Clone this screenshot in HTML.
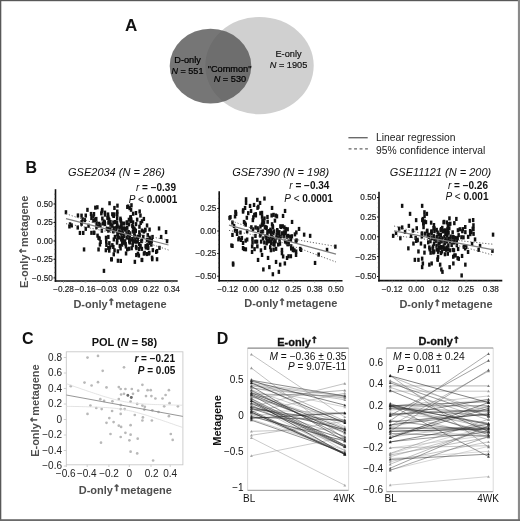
<!DOCTYPE html>
<html><head><meta charset="utf-8"><style>
html,body{margin:0;padding:0;background:#fff;}
svg{display:block;font-family:"Liberation Sans", Arial, sans-serif;filter:blur(0.3px);}
</style></head><body>
<svg width="520" height="521" viewBox="0 0 520 521">
<rect width="520" height="521" fill="#fff"/>
<text x="125.00" y="30.60" font-size="17" font-weight="bold" font-style="normal" text-anchor="start" fill="#111" >A</text>
<ellipse cx="259.5" cy="65.6" rx="54.2" ry="48.7" fill="#d0d0d0"/>
<ellipse cx="210.5" cy="66.1" rx="40.8" ry="37.4" fill="#585858" fill-opacity="0.82"/>
<text x="187.60" y="62.80" font-size="9.2" font-weight="normal" font-style="normal" text-anchor="middle" fill="#000" stroke="#000" stroke-width="0.22">D-only</text>
<text x="187.50" y="73.60" font-size="9.0" font-weight="normal" font-style="normal" text-anchor="middle" fill="#000" stroke="#000" stroke-width="0.22"><tspan font-style="italic">N</tspan> = 551</text>
<text x="229.60" y="72.20" font-size="9.2" font-weight="normal" font-style="normal" text-anchor="middle" fill="#000" stroke="#000" stroke-width="0.22">"Common"</text>
<text x="229.90" y="82.20" font-size="9.2" font-weight="normal" font-style="normal" text-anchor="middle" fill="#000" stroke="#000" stroke-width="0.22"><tspan font-style="italic">N</tspan> = 530</text>
<text x="288.50" y="57.30" font-size="9.2" font-weight="normal" font-style="normal" text-anchor="middle" fill="#111" stroke="#111" stroke-width="0.18">E-only</text>
<text x="288.50" y="68.30" font-size="9.2" font-weight="normal" font-style="normal" text-anchor="middle" fill="#111" stroke="#111" stroke-width="0.18"><tspan font-style="italic">N</tspan> = 1905</text>
<line x1="348.40" y1="137.70" x2="367.70" y2="137.70" stroke="#6a6a6a" stroke-width="1.4" />
<line x1="348.60" y1="148.90" x2="367.90" y2="148.90" stroke="#666" stroke-width="1.4" stroke-dasharray="2.9,2.6"/>
<text x="376.00" y="140.90" font-size="10.3" font-weight="normal" font-style="normal" text-anchor="start" fill="#222" >Linear regression</text>
<text x="376.00" y="153.60" font-size="10.3" font-weight="normal" font-style="normal" text-anchor="start" fill="#222" >95% confidence interval</text>
<text x="25.50" y="172.90" font-size="16" font-weight="bold" font-style="normal" text-anchor="start" fill="#111" >B</text>
<line x1="55.50" y1="189.20" x2="55.50" y2="281.80" stroke="#111" stroke-width="1.6" />
<line x1="54.70" y1="281.00" x2="177.70" y2="281.00" stroke="#111" stroke-width="1.6" />
<line x1="53.50" y1="204.00" x2="55.50" y2="204.00" stroke="#111" stroke-width="1" />
<text x="52.80" y="206.90" font-size="8.2" font-weight="normal" font-style="normal" text-anchor="end" fill="#222" stroke="#222" stroke-width="0.18">0.50</text>
<line x1="53.50" y1="222.50" x2="55.50" y2="222.50" stroke="#111" stroke-width="1" />
<text x="52.80" y="225.40" font-size="8.2" font-weight="normal" font-style="normal" text-anchor="end" fill="#222" stroke="#222" stroke-width="0.18">0.25</text>
<line x1="53.50" y1="241.00" x2="55.50" y2="241.00" stroke="#111" stroke-width="1" />
<text x="52.80" y="243.90" font-size="8.2" font-weight="normal" font-style="normal" text-anchor="end" fill="#222" stroke="#222" stroke-width="0.18">0.00</text>
<line x1="53.50" y1="259.30" x2="55.50" y2="259.30" stroke="#111" stroke-width="1" />
<text x="52.80" y="262.20" font-size="8.2" font-weight="normal" font-style="normal" text-anchor="end" fill="#222" stroke="#222" stroke-width="0.18">&#8722;0.25</text>
<line x1="53.50" y1="277.90" x2="55.50" y2="277.90" stroke="#111" stroke-width="1" />
<text x="52.80" y="280.80" font-size="8.2" font-weight="normal" font-style="normal" text-anchor="end" fill="#222" stroke="#222" stroke-width="0.18">&#8722;0.50</text>
<line x1="63.50" y1="281.00" x2="63.50" y2="283.00" stroke="#999" stroke-width="0.8" />
<text x="63.50" y="292.30" font-size="8.2" font-weight="normal" font-style="normal" text-anchor="middle" fill="#222" stroke="#222" stroke-width="0.18">&#8722;0.28</text>
<line x1="85.20" y1="281.00" x2="85.20" y2="283.00" stroke="#999" stroke-width="0.8" />
<text x="85.20" y="292.30" font-size="8.2" font-weight="normal" font-style="normal" text-anchor="middle" fill="#222" stroke="#222" stroke-width="0.18">&#8722;0.16</text>
<line x1="106.80" y1="281.00" x2="106.80" y2="283.00" stroke="#999" stroke-width="0.8" />
<text x="106.80" y="292.30" font-size="8.2" font-weight="normal" font-style="normal" text-anchor="middle" fill="#222" stroke="#222" stroke-width="0.18">&#8722;0.03</text>
<line x1="129.90" y1="281.00" x2="129.90" y2="283.00" stroke="#999" stroke-width="0.8" />
<text x="129.90" y="292.30" font-size="8.2" font-weight="normal" font-style="normal" text-anchor="middle" fill="#222" stroke="#222" stroke-width="0.18">0.09</text>
<line x1="151.00" y1="281.00" x2="151.00" y2="283.00" stroke="#999" stroke-width="0.8" />
<text x="151.00" y="292.30" font-size="8.2" font-weight="normal" font-style="normal" text-anchor="middle" fill="#222" stroke="#222" stroke-width="0.18">0.22</text>
<line x1="171.90" y1="281.00" x2="171.90" y2="283.00" stroke="#999" stroke-width="0.8" />
<text x="171.90" y="292.30" font-size="8.2" font-weight="normal" font-style="normal" text-anchor="middle" fill="#222" stroke="#222" stroke-width="0.18">0.34</text>
<line x1="54.30" y1="277.00" x2="55.50" y2="277.00" stroke="#444" stroke-width="0.6" />
<line x1="54.30" y1="272.40" x2="55.50" y2="272.40" stroke="#444" stroke-width="0.6" />
<line x1="54.30" y1="267.80" x2="55.50" y2="267.80" stroke="#444" stroke-width="0.6" />
<line x1="54.30" y1="263.20" x2="55.50" y2="263.20" stroke="#444" stroke-width="0.6" />
<line x1="54.30" y1="258.60" x2="55.50" y2="258.60" stroke="#444" stroke-width="0.6" />
<line x1="54.30" y1="254.00" x2="55.50" y2="254.00" stroke="#444" stroke-width="0.6" />
<line x1="54.30" y1="249.40" x2="55.50" y2="249.40" stroke="#444" stroke-width="0.6" />
<line x1="54.30" y1="244.80" x2="55.50" y2="244.80" stroke="#444" stroke-width="0.6" />
<line x1="54.30" y1="240.20" x2="55.50" y2="240.20" stroke="#444" stroke-width="0.6" />
<line x1="54.30" y1="235.60" x2="55.50" y2="235.60" stroke="#444" stroke-width="0.6" />
<line x1="54.30" y1="231.00" x2="55.50" y2="231.00" stroke="#444" stroke-width="0.6" />
<line x1="54.30" y1="226.40" x2="55.50" y2="226.40" stroke="#444" stroke-width="0.6" />
<line x1="54.30" y1="221.80" x2="55.50" y2="221.80" stroke="#444" stroke-width="0.6" />
<line x1="54.30" y1="217.20" x2="55.50" y2="217.20" stroke="#444" stroke-width="0.6" />
<line x1="54.30" y1="212.60" x2="55.50" y2="212.60" stroke="#444" stroke-width="0.6" />
<line x1="54.30" y1="208.00" x2="55.50" y2="208.00" stroke="#444" stroke-width="0.6" />
<line x1="54.30" y1="203.40" x2="55.50" y2="203.40" stroke="#444" stroke-width="0.6" />
<line x1="54.30" y1="198.80" x2="55.50" y2="198.80" stroke="#444" stroke-width="0.6" />
<line x1="54.30" y1="194.20" x2="55.50" y2="194.20" stroke="#444" stroke-width="0.6" />
<line x1="60.50" y1="281.00" x2="60.50" y2="282.30" stroke="#888" stroke-width="0.6" />
<line x1="65.70" y1="281.00" x2="65.70" y2="282.30" stroke="#888" stroke-width="0.6" />
<line x1="70.90" y1="281.00" x2="70.90" y2="282.30" stroke="#888" stroke-width="0.6" />
<line x1="76.10" y1="281.00" x2="76.10" y2="282.30" stroke="#888" stroke-width="0.6" />
<line x1="81.30" y1="281.00" x2="81.30" y2="282.30" stroke="#888" stroke-width="0.6" />
<line x1="86.50" y1="281.00" x2="86.50" y2="282.30" stroke="#888" stroke-width="0.6" />
<line x1="91.70" y1="281.00" x2="91.70" y2="282.30" stroke="#888" stroke-width="0.6" />
<line x1="96.90" y1="281.00" x2="96.90" y2="282.30" stroke="#888" stroke-width="0.6" />
<line x1="102.10" y1="281.00" x2="102.10" y2="282.30" stroke="#888" stroke-width="0.6" />
<line x1="107.30" y1="281.00" x2="107.30" y2="282.30" stroke="#888" stroke-width="0.6" />
<line x1="112.50" y1="281.00" x2="112.50" y2="282.30" stroke="#888" stroke-width="0.6" />
<line x1="117.70" y1="281.00" x2="117.70" y2="282.30" stroke="#888" stroke-width="0.6" />
<line x1="122.90" y1="281.00" x2="122.90" y2="282.30" stroke="#888" stroke-width="0.6" />
<line x1="128.10" y1="281.00" x2="128.10" y2="282.30" stroke="#888" stroke-width="0.6" />
<line x1="133.30" y1="281.00" x2="133.30" y2="282.30" stroke="#888" stroke-width="0.6" />
<line x1="138.50" y1="281.00" x2="138.50" y2="282.30" stroke="#888" stroke-width="0.6" />
<line x1="143.70" y1="281.00" x2="143.70" y2="282.30" stroke="#888" stroke-width="0.6" />
<line x1="148.90" y1="281.00" x2="148.90" y2="282.30" stroke="#888" stroke-width="0.6" />
<line x1="154.10" y1="281.00" x2="154.10" y2="282.30" stroke="#888" stroke-width="0.6" />
<line x1="159.30" y1="281.00" x2="159.30" y2="282.30" stroke="#888" stroke-width="0.6" />
<line x1="164.50" y1="281.00" x2="164.50" y2="282.30" stroke="#888" stroke-width="0.6" />
<line x1="169.70" y1="281.00" x2="169.70" y2="282.30" stroke="#888" stroke-width="0.6" />
<line x1="174.90" y1="281.00" x2="174.90" y2="282.30" stroke="#888" stroke-width="0.6" />
<text x="116.50" y="175.90" font-size="11" font-weight="normal" font-style="italic" text-anchor="middle" fill="#111" >GSE2034 (N = 286)</text>
<text x="176.00" y="190.60" font-size="10" font-weight="bold" font-style="normal" text-anchor="end" fill="#111" ><tspan font-style="italic" font-weight="normal">r</tspan> = &#8722;0.39</text>
<text x="177.30" y="203.30" font-size="10" font-weight="bold" font-style="normal" text-anchor="end" fill="#111" ><tspan font-style="italic" font-weight="normal">P</tspan> <tspan font-weight="normal">&lt;</tspan> 0.0001</text>
<text x="120.00" y="307.70" font-size="11" font-weight="bold" font-style="normal" text-anchor="middle" fill="#4d4d4d" >D-only<tspan font-family="DejaVu Sans" font-weight="bold" font-size="9" dy="-2.4" stroke="#4d4d4d" stroke-width="0.45">&#8593;</tspan><tspan dy="2.4">metagene</tspan></text>
<line x1="219.20" y1="191.20" x2="219.20" y2="281.60" stroke="#111" stroke-width="1.6" />
<line x1="218.40" y1="280.80" x2="342.50" y2="280.80" stroke="#111" stroke-width="1.6" />
<line x1="217.20" y1="208.50" x2="219.20" y2="208.50" stroke="#111" stroke-width="1" />
<text x="216.30" y="211.40" font-size="8.2" font-weight="normal" font-style="normal" text-anchor="end" fill="#222" stroke="#222" stroke-width="0.18">0.25</text>
<line x1="217.20" y1="231.00" x2="219.20" y2="231.00" stroke="#111" stroke-width="1" />
<text x="216.30" y="233.90" font-size="8.2" font-weight="normal" font-style="normal" text-anchor="end" fill="#222" stroke="#222" stroke-width="0.18">0.00</text>
<line x1="217.20" y1="253.50" x2="219.20" y2="253.50" stroke="#111" stroke-width="1" />
<text x="216.30" y="256.40" font-size="8.2" font-weight="normal" font-style="normal" text-anchor="end" fill="#222" stroke="#222" stroke-width="0.18">&#8722;0.25</text>
<line x1="217.20" y1="276.20" x2="219.20" y2="276.20" stroke="#111" stroke-width="1" />
<text x="216.30" y="279.10" font-size="8.2" font-weight="normal" font-style="normal" text-anchor="end" fill="#222" stroke="#222" stroke-width="0.18">&#8722;0.50</text>
<line x1="227.70" y1="280.80" x2="227.70" y2="282.80" stroke="#999" stroke-width="0.8" />
<text x="227.70" y="292.10" font-size="8.2" font-weight="normal" font-style="normal" text-anchor="middle" fill="#222" stroke="#222" stroke-width="0.18">&#8722;0.12</text>
<line x1="250.60" y1="280.80" x2="250.60" y2="282.80" stroke="#999" stroke-width="0.8" />
<text x="250.60" y="292.10" font-size="8.2" font-weight="normal" font-style="normal" text-anchor="middle" fill="#222" stroke="#222" stroke-width="0.18">0.00</text>
<line x1="271.20" y1="280.80" x2="271.20" y2="282.80" stroke="#999" stroke-width="0.8" />
<text x="271.20" y="292.10" font-size="8.2" font-weight="normal" font-style="normal" text-anchor="middle" fill="#222" stroke="#222" stroke-width="0.18">0.12</text>
<line x1="293.30" y1="280.80" x2="293.30" y2="282.80" stroke="#999" stroke-width="0.8" />
<text x="293.30" y="292.10" font-size="8.2" font-weight="normal" font-style="normal" text-anchor="middle" fill="#222" stroke="#222" stroke-width="0.18">0.25</text>
<line x1="314.70" y1="280.80" x2="314.70" y2="282.80" stroke="#999" stroke-width="0.8" />
<text x="314.70" y="292.10" font-size="8.2" font-weight="normal" font-style="normal" text-anchor="middle" fill="#222" stroke="#222" stroke-width="0.18">0.38</text>
<line x1="335.90" y1="280.80" x2="335.90" y2="282.80" stroke="#999" stroke-width="0.8" />
<text x="335.90" y="292.10" font-size="8.2" font-weight="normal" font-style="normal" text-anchor="middle" fill="#222" stroke="#222" stroke-width="0.18">0.50</text>
<line x1="218.00" y1="276.80" x2="219.20" y2="276.80" stroke="#444" stroke-width="0.6" />
<line x1="218.00" y1="272.20" x2="219.20" y2="272.20" stroke="#444" stroke-width="0.6" />
<line x1="218.00" y1="267.60" x2="219.20" y2="267.60" stroke="#444" stroke-width="0.6" />
<line x1="218.00" y1="263.00" x2="219.20" y2="263.00" stroke="#444" stroke-width="0.6" />
<line x1="218.00" y1="258.40" x2="219.20" y2="258.40" stroke="#444" stroke-width="0.6" />
<line x1="218.00" y1="253.80" x2="219.20" y2="253.80" stroke="#444" stroke-width="0.6" />
<line x1="218.00" y1="249.20" x2="219.20" y2="249.20" stroke="#444" stroke-width="0.6" />
<line x1="218.00" y1="244.60" x2="219.20" y2="244.60" stroke="#444" stroke-width="0.6" />
<line x1="218.00" y1="240.00" x2="219.20" y2="240.00" stroke="#444" stroke-width="0.6" />
<line x1="218.00" y1="235.40" x2="219.20" y2="235.40" stroke="#444" stroke-width="0.6" />
<line x1="218.00" y1="230.80" x2="219.20" y2="230.80" stroke="#444" stroke-width="0.6" />
<line x1="218.00" y1="226.20" x2="219.20" y2="226.20" stroke="#444" stroke-width="0.6" />
<line x1="218.00" y1="221.60" x2="219.20" y2="221.60" stroke="#444" stroke-width="0.6" />
<line x1="218.00" y1="217.00" x2="219.20" y2="217.00" stroke="#444" stroke-width="0.6" />
<line x1="218.00" y1="212.40" x2="219.20" y2="212.40" stroke="#444" stroke-width="0.6" />
<line x1="218.00" y1="207.80" x2="219.20" y2="207.80" stroke="#444" stroke-width="0.6" />
<line x1="218.00" y1="203.20" x2="219.20" y2="203.20" stroke="#444" stroke-width="0.6" />
<line x1="218.00" y1="198.60" x2="219.20" y2="198.60" stroke="#444" stroke-width="0.6" />
<line x1="218.00" y1="194.00" x2="219.20" y2="194.00" stroke="#444" stroke-width="0.6" />
<line x1="224.20" y1="280.80" x2="224.20" y2="282.10" stroke="#888" stroke-width="0.6" />
<line x1="229.40" y1="280.80" x2="229.40" y2="282.10" stroke="#888" stroke-width="0.6" />
<line x1="234.60" y1="280.80" x2="234.60" y2="282.10" stroke="#888" stroke-width="0.6" />
<line x1="239.80" y1="280.80" x2="239.80" y2="282.10" stroke="#888" stroke-width="0.6" />
<line x1="245.00" y1="280.80" x2="245.00" y2="282.10" stroke="#888" stroke-width="0.6" />
<line x1="250.20" y1="280.80" x2="250.20" y2="282.10" stroke="#888" stroke-width="0.6" />
<line x1="255.40" y1="280.80" x2="255.40" y2="282.10" stroke="#888" stroke-width="0.6" />
<line x1="260.60" y1="280.80" x2="260.60" y2="282.10" stroke="#888" stroke-width="0.6" />
<line x1="265.80" y1="280.80" x2="265.80" y2="282.10" stroke="#888" stroke-width="0.6" />
<line x1="271.00" y1="280.80" x2="271.00" y2="282.10" stroke="#888" stroke-width="0.6" />
<line x1="276.20" y1="280.80" x2="276.20" y2="282.10" stroke="#888" stroke-width="0.6" />
<line x1="281.40" y1="280.80" x2="281.40" y2="282.10" stroke="#888" stroke-width="0.6" />
<line x1="286.60" y1="280.80" x2="286.60" y2="282.10" stroke="#888" stroke-width="0.6" />
<line x1="291.80" y1="280.80" x2="291.80" y2="282.10" stroke="#888" stroke-width="0.6" />
<line x1="297.00" y1="280.80" x2="297.00" y2="282.10" stroke="#888" stroke-width="0.6" />
<line x1="302.20" y1="280.80" x2="302.20" y2="282.10" stroke="#888" stroke-width="0.6" />
<line x1="307.40" y1="280.80" x2="307.40" y2="282.10" stroke="#888" stroke-width="0.6" />
<line x1="312.60" y1="280.80" x2="312.60" y2="282.10" stroke="#888" stroke-width="0.6" />
<line x1="317.80" y1="280.80" x2="317.80" y2="282.10" stroke="#888" stroke-width="0.6" />
<line x1="323.00" y1="280.80" x2="323.00" y2="282.10" stroke="#888" stroke-width="0.6" />
<line x1="328.20" y1="280.80" x2="328.20" y2="282.10" stroke="#888" stroke-width="0.6" />
<line x1="333.40" y1="280.80" x2="333.40" y2="282.10" stroke="#888" stroke-width="0.6" />
<line x1="338.60" y1="280.80" x2="338.60" y2="282.10" stroke="#888" stroke-width="0.6" />
<text x="280.60" y="175.50" font-size="11" font-weight="normal" font-style="italic" text-anchor="middle" fill="#111" >GSE7390 (N = 198)</text>
<text x="329.40" y="188.70" font-size="10" font-weight="bold" font-style="normal" text-anchor="end" fill="#111" ><tspan font-style="italic" font-weight="normal">r</tspan> = &#8722;0.34</text>
<text x="332.90" y="201.60" font-size="10" font-weight="bold" font-style="normal" text-anchor="end" fill="#111" ><tspan font-style="italic" font-weight="normal">P</tspan> <tspan font-weight="normal">&lt;</tspan> 0.0001</text>
<text x="290.80" y="307.20" font-size="11" font-weight="bold" font-style="normal" text-anchor="middle" fill="#4d4d4d" >D-only<tspan font-family="DejaVu Sans" font-weight="bold" font-size="9" dy="-2.4" stroke="#4d4d4d" stroke-width="0.45">&#8593;</tspan><tspan dy="2.4">metagene</tspan></text>
<line x1="379.00" y1="191.70" x2="379.00" y2="281.40" stroke="#111" stroke-width="1.6" />
<line x1="378.20" y1="280.60" x2="502.30" y2="280.60" stroke="#111" stroke-width="1.6" />
<line x1="377.00" y1="197.50" x2="379.00" y2="197.50" stroke="#111" stroke-width="1" />
<text x="376.30" y="200.40" font-size="8.2" font-weight="normal" font-style="normal" text-anchor="end" fill="#222" stroke="#222" stroke-width="0.18">0.50</text>
<line x1="377.00" y1="217.00" x2="379.00" y2="217.00" stroke="#111" stroke-width="1" />
<text x="376.30" y="219.90" font-size="8.2" font-weight="normal" font-style="normal" text-anchor="end" fill="#222" stroke="#222" stroke-width="0.18">0.25</text>
<line x1="377.00" y1="236.80" x2="379.00" y2="236.80" stroke="#111" stroke-width="1" />
<text x="376.30" y="239.70" font-size="8.2" font-weight="normal" font-style="normal" text-anchor="end" fill="#222" stroke="#222" stroke-width="0.18">0.00</text>
<line x1="377.00" y1="256.60" x2="379.00" y2="256.60" stroke="#111" stroke-width="1" />
<text x="376.30" y="259.50" font-size="8.2" font-weight="normal" font-style="normal" text-anchor="end" fill="#222" stroke="#222" stroke-width="0.18">&#8722;0.25</text>
<line x1="377.00" y1="276.50" x2="379.00" y2="276.50" stroke="#111" stroke-width="1" />
<text x="376.30" y="279.40" font-size="8.2" font-weight="normal" font-style="normal" text-anchor="end" fill="#222" stroke="#222" stroke-width="0.18">&#8722;0.50</text>
<line x1="392.20" y1="280.60" x2="392.20" y2="282.60" stroke="#999" stroke-width="0.8" />
<text x="392.20" y="291.90" font-size="8.2" font-weight="normal" font-style="normal" text-anchor="middle" fill="#222" stroke="#222" stroke-width="0.18">&#8722;0.12</text>
<line x1="416.30" y1="280.60" x2="416.30" y2="282.60" stroke="#999" stroke-width="0.8" />
<text x="416.30" y="291.90" font-size="8.2" font-weight="normal" font-style="normal" text-anchor="middle" fill="#222" stroke="#222" stroke-width="0.18">0.00</text>
<line x1="441.30" y1="280.60" x2="441.30" y2="282.60" stroke="#999" stroke-width="0.8" />
<text x="441.30" y="291.90" font-size="8.2" font-weight="normal" font-style="normal" text-anchor="middle" fill="#222" stroke="#222" stroke-width="0.18">0.12</text>
<line x1="466.00" y1="280.60" x2="466.00" y2="282.60" stroke="#999" stroke-width="0.8" />
<text x="466.00" y="291.90" font-size="8.2" font-weight="normal" font-style="normal" text-anchor="middle" fill="#222" stroke="#222" stroke-width="0.18">0.25</text>
<line x1="490.80" y1="280.60" x2="490.80" y2="282.60" stroke="#999" stroke-width="0.8" />
<text x="490.80" y="291.90" font-size="8.2" font-weight="normal" font-style="normal" text-anchor="middle" fill="#222" stroke="#222" stroke-width="0.18">0.38</text>
<line x1="377.80" y1="276.60" x2="379.00" y2="276.60" stroke="#444" stroke-width="0.6" />
<line x1="377.80" y1="272.00" x2="379.00" y2="272.00" stroke="#444" stroke-width="0.6" />
<line x1="377.80" y1="267.40" x2="379.00" y2="267.40" stroke="#444" stroke-width="0.6" />
<line x1="377.80" y1="262.80" x2="379.00" y2="262.80" stroke="#444" stroke-width="0.6" />
<line x1="377.80" y1="258.20" x2="379.00" y2="258.20" stroke="#444" stroke-width="0.6" />
<line x1="377.80" y1="253.60" x2="379.00" y2="253.60" stroke="#444" stroke-width="0.6" />
<line x1="377.80" y1="249.00" x2="379.00" y2="249.00" stroke="#444" stroke-width="0.6" />
<line x1="377.80" y1="244.40" x2="379.00" y2="244.40" stroke="#444" stroke-width="0.6" />
<line x1="377.80" y1="239.80" x2="379.00" y2="239.80" stroke="#444" stroke-width="0.6" />
<line x1="377.80" y1="235.20" x2="379.00" y2="235.20" stroke="#444" stroke-width="0.6" />
<line x1="377.80" y1="230.60" x2="379.00" y2="230.60" stroke="#444" stroke-width="0.6" />
<line x1="377.80" y1="226.00" x2="379.00" y2="226.00" stroke="#444" stroke-width="0.6" />
<line x1="377.80" y1="221.40" x2="379.00" y2="221.40" stroke="#444" stroke-width="0.6" />
<line x1="377.80" y1="216.80" x2="379.00" y2="216.80" stroke="#444" stroke-width="0.6" />
<line x1="377.80" y1="212.20" x2="379.00" y2="212.20" stroke="#444" stroke-width="0.6" />
<line x1="377.80" y1="207.60" x2="379.00" y2="207.60" stroke="#444" stroke-width="0.6" />
<line x1="377.80" y1="203.00" x2="379.00" y2="203.00" stroke="#444" stroke-width="0.6" />
<line x1="377.80" y1="198.40" x2="379.00" y2="198.40" stroke="#444" stroke-width="0.6" />
<line x1="377.80" y1="193.80" x2="379.00" y2="193.80" stroke="#444" stroke-width="0.6" />
<line x1="384.00" y1="280.60" x2="384.00" y2="281.90" stroke="#888" stroke-width="0.6" />
<line x1="389.20" y1="280.60" x2="389.20" y2="281.90" stroke="#888" stroke-width="0.6" />
<line x1="394.40" y1="280.60" x2="394.40" y2="281.90" stroke="#888" stroke-width="0.6" />
<line x1="399.60" y1="280.60" x2="399.60" y2="281.90" stroke="#888" stroke-width="0.6" />
<line x1="404.80" y1="280.60" x2="404.80" y2="281.90" stroke="#888" stroke-width="0.6" />
<line x1="410.00" y1="280.60" x2="410.00" y2="281.90" stroke="#888" stroke-width="0.6" />
<line x1="415.20" y1="280.60" x2="415.20" y2="281.90" stroke="#888" stroke-width="0.6" />
<line x1="420.40" y1="280.60" x2="420.40" y2="281.90" stroke="#888" stroke-width="0.6" />
<line x1="425.60" y1="280.60" x2="425.60" y2="281.90" stroke="#888" stroke-width="0.6" />
<line x1="430.80" y1="280.60" x2="430.80" y2="281.90" stroke="#888" stroke-width="0.6" />
<line x1="436.00" y1="280.60" x2="436.00" y2="281.90" stroke="#888" stroke-width="0.6" />
<line x1="441.20" y1="280.60" x2="441.20" y2="281.90" stroke="#888" stroke-width="0.6" />
<line x1="446.40" y1="280.60" x2="446.40" y2="281.90" stroke="#888" stroke-width="0.6" />
<line x1="451.60" y1="280.60" x2="451.60" y2="281.90" stroke="#888" stroke-width="0.6" />
<line x1="456.80" y1="280.60" x2="456.80" y2="281.90" stroke="#888" stroke-width="0.6" />
<line x1="462.00" y1="280.60" x2="462.00" y2="281.90" stroke="#888" stroke-width="0.6" />
<line x1="467.20" y1="280.60" x2="467.20" y2="281.90" stroke="#888" stroke-width="0.6" />
<line x1="472.40" y1="280.60" x2="472.40" y2="281.90" stroke="#888" stroke-width="0.6" />
<line x1="477.60" y1="280.60" x2="477.60" y2="281.90" stroke="#888" stroke-width="0.6" />
<line x1="482.80" y1="280.60" x2="482.80" y2="281.90" stroke="#888" stroke-width="0.6" />
<line x1="488.00" y1="280.60" x2="488.00" y2="281.90" stroke="#888" stroke-width="0.6" />
<line x1="493.20" y1="280.60" x2="493.20" y2="281.90" stroke="#888" stroke-width="0.6" />
<line x1="498.40" y1="280.60" x2="498.40" y2="281.90" stroke="#888" stroke-width="0.6" />
<text x="440.50" y="176.20" font-size="11" font-weight="normal" font-style="italic" text-anchor="middle" fill="#111" >GSE11121 (N = 200)</text>
<text x="488.00" y="188.80" font-size="10" font-weight="bold" font-style="normal" text-anchor="end" fill="#111" ><tspan font-style="italic" font-weight="normal">r</tspan> = &#8722;0.26</text>
<text x="488.50" y="200.40" font-size="10" font-weight="bold" font-style="normal" text-anchor="end" fill="#111" ><tspan font-style="italic" font-weight="normal">P</tspan> <tspan font-weight="normal">&lt;</tspan> 0.001</text>
<text x="446.00" y="308.00" font-size="11" font-weight="bold" font-style="normal" text-anchor="middle" fill="#4d4d4d" >D-only<tspan font-family="DejaVu Sans" font-weight="bold" font-size="9" dy="-2.4" stroke="#4d4d4d" stroke-width="0.45">&#8593;</tspan><tspan dy="2.4">metagene</tspan></text>
<rect x="100.6" y="228.7" width="2.5" height="4.1" fill="#111"/>
<rect x="131.7" y="225.0" width="2.5" height="4.1" fill="#111"/>
<rect x="99.1" y="223.2" width="2.5" height="4.1" fill="#111"/>
<rect x="124.4" y="242.1" width="2.5" height="4.1" fill="#111"/>
<rect x="100.7" y="209.3" width="2.5" height="4.1" fill="#111"/>
<rect x="127.6" y="235.6" width="2.5" height="4.1" fill="#111"/>
<rect x="139.2" y="244.0" width="2.5" height="4.1" fill="#111"/>
<rect x="116.3" y="224.5" width="2.5" height="4.1" fill="#111"/>
<rect x="106.8" y="212.4" width="2.5" height="4.1" fill="#111"/>
<rect x="119.1" y="229.9" width="2.5" height="4.1" fill="#111"/>
<rect x="112.9" y="226.2" width="2.5" height="4.1" fill="#111"/>
<rect x="121.6" y="236.8" width="2.5" height="4.1" fill="#111"/>
<rect x="133.1" y="233.7" width="2.5" height="4.1" fill="#111"/>
<rect x="92.7" y="230.7" width="2.5" height="4.1" fill="#111"/>
<rect x="97.9" y="221.7" width="2.5" height="4.1" fill="#111"/>
<rect x="97.1" y="223.6" width="2.5" height="4.1" fill="#111"/>
<rect x="106.9" y="228.1" width="2.5" height="4.1" fill="#111"/>
<rect x="129.5" y="215.1" width="2.5" height="4.1" fill="#111"/>
<rect x="113.7" y="234.8" width="2.5" height="4.1" fill="#111"/>
<rect x="116.5" y="232.0" width="2.5" height="4.1" fill="#111"/>
<rect x="119.2" y="216.6" width="2.5" height="4.1" fill="#111"/>
<rect x="125.6" y="220.2" width="2.5" height="4.1" fill="#111"/>
<rect x="144.0" y="227.7" width="2.5" height="4.1" fill="#111"/>
<rect x="127.4" y="230.0" width="2.5" height="4.1" fill="#111"/>
<rect x="131.1" y="223.8" width="2.5" height="4.1" fill="#111"/>
<rect x="131.7" y="229.5" width="2.5" height="4.1" fill="#111"/>
<rect x="135.4" y="239.0" width="2.5" height="4.1" fill="#111"/>
<rect x="119.7" y="219.3" width="2.5" height="4.1" fill="#111"/>
<rect x="128.5" y="235.7" width="2.5" height="4.1" fill="#111"/>
<rect x="140.7" y="228.5" width="2.5" height="4.1" fill="#111"/>
<rect x="125.5" y="235.5" width="2.5" height="4.1" fill="#111"/>
<rect x="121.7" y="231.2" width="2.5" height="4.1" fill="#111"/>
<rect x="120.3" y="221.5" width="2.5" height="4.1" fill="#111"/>
<rect x="103.5" y="220.3" width="2.5" height="4.1" fill="#111"/>
<rect x="126.0" y="247.3" width="2.5" height="4.1" fill="#111"/>
<rect x="131.4" y="243.1" width="2.5" height="4.1" fill="#111"/>
<rect x="128.6" y="238.4" width="2.5" height="4.1" fill="#111"/>
<rect x="120.3" y="237.5" width="2.5" height="4.1" fill="#111"/>
<rect x="142.6" y="229.5" width="2.5" height="4.1" fill="#111"/>
<rect x="108.0" y="248.6" width="2.5" height="4.1" fill="#111"/>
<rect x="121.2" y="240.0" width="2.5" height="4.1" fill="#111"/>
<rect x="130.0" y="217.4" width="2.5" height="4.1" fill="#111"/>
<rect x="120.2" y="237.2" width="2.5" height="4.1" fill="#111"/>
<rect x="119.5" y="218.1" width="2.5" height="4.1" fill="#111"/>
<rect x="116.2" y="232.0" width="2.5" height="4.1" fill="#111"/>
<rect x="133.4" y="239.5" width="2.5" height="4.1" fill="#111"/>
<rect x="118.6" y="243.9" width="2.5" height="4.1" fill="#111"/>
<rect x="107.1" y="234.9" width="2.5" height="4.1" fill="#111"/>
<rect x="133.3" y="227.9" width="2.5" height="4.1" fill="#111"/>
<rect x="92.7" y="212.0" width="2.5" height="4.1" fill="#111"/>
<rect x="121.1" y="234.8" width="2.5" height="4.1" fill="#111"/>
<rect x="139.4" y="220.9" width="2.5" height="4.1" fill="#111"/>
<rect x="117.8" y="235.5" width="2.5" height="4.1" fill="#111"/>
<rect x="131.8" y="220.3" width="2.5" height="4.1" fill="#111"/>
<rect x="112.0" y="229.3" width="2.5" height="4.1" fill="#111"/>
<rect x="119.3" y="246.4" width="2.5" height="4.1" fill="#111"/>
<rect x="116.6" y="249.3" width="2.5" height="4.1" fill="#111"/>
<rect x="108.2" y="220.4" width="2.5" height="4.1" fill="#111"/>
<rect x="127.8" y="246.7" width="2.5" height="4.1" fill="#111"/>
<rect x="126.9" y="233.4" width="2.5" height="4.1" fill="#111"/>
<rect x="92.2" y="214.2" width="2.5" height="4.1" fill="#111"/>
<rect x="109.2" y="219.9" width="2.5" height="4.1" fill="#111"/>
<rect x="126.0" y="225.8" width="2.5" height="4.1" fill="#111"/>
<rect x="128.8" y="231.3" width="2.5" height="4.1" fill="#111"/>
<rect x="113.1" y="228.3" width="2.5" height="4.1" fill="#111"/>
<rect x="123.8" y="239.2" width="2.5" height="4.1" fill="#111"/>
<rect x="111.1" y="223.8" width="2.5" height="4.1" fill="#111"/>
<rect x="98.7" y="242.5" width="2.5" height="4.1" fill="#111"/>
<rect x="138.1" y="230.2" width="2.5" height="4.1" fill="#111"/>
<rect x="111.1" y="212.2" width="2.5" height="4.1" fill="#111"/>
<rect x="120.1" y="230.9" width="2.5" height="4.1" fill="#111"/>
<rect x="148.3" y="237.4" width="2.5" height="4.1" fill="#111"/>
<rect x="137.5" y="234.4" width="2.5" height="4.1" fill="#111"/>
<rect x="95.2" y="225.2" width="2.5" height="4.1" fill="#111"/>
<rect x="133.4" y="238.0" width="2.5" height="4.1" fill="#111"/>
<rect x="116.0" y="209.5" width="2.5" height="4.1" fill="#111"/>
<rect x="126.1" y="204.9" width="2.5" height="4.1" fill="#111"/>
<rect x="105.0" y="239.4" width="2.5" height="4.1" fill="#111"/>
<rect x="140.8" y="219.2" width="2.5" height="4.1" fill="#111"/>
<rect x="96.3" y="233.6" width="2.5" height="4.1" fill="#111"/>
<rect x="129.7" y="219.0" width="2.5" height="4.1" fill="#111"/>
<rect x="108.0" y="217.8" width="2.5" height="4.1" fill="#111"/>
<rect x="101.1" y="216.5" width="2.5" height="4.1" fill="#111"/>
<rect x="135.3" y="239.7" width="2.5" height="4.1" fill="#111"/>
<rect x="146.5" y="233.1" width="2.5" height="4.1" fill="#111"/>
<rect x="115.9" y="216.1" width="2.5" height="4.1" fill="#111"/>
<rect x="116.0" y="212.3" width="2.5" height="4.1" fill="#111"/>
<rect x="92.9" y="230.7" width="2.5" height="4.1" fill="#111"/>
<rect x="137.9" y="242.0" width="2.5" height="4.1" fill="#111"/>
<rect x="136.4" y="234.9" width="2.5" height="4.1" fill="#111"/>
<rect x="107.7" y="226.8" width="2.5" height="4.1" fill="#111"/>
<rect x="112.5" y="213.9" width="2.5" height="4.1" fill="#111"/>
<rect x="94.1" y="205.6" width="2.5" height="4.1" fill="#111"/>
<rect x="117.7" y="229.7" width="2.5" height="4.1" fill="#111"/>
<rect x="111.1" y="243.1" width="2.5" height="4.1" fill="#111"/>
<rect x="120.3" y="235.3" width="2.5" height="4.1" fill="#111"/>
<rect x="134.8" y="222.1" width="2.5" height="4.1" fill="#111"/>
<rect x="90.2" y="230.8" width="2.5" height="4.1" fill="#111"/>
<rect x="108.1" y="241.1" width="2.5" height="4.1" fill="#111"/>
<rect x="122.5" y="240.7" width="2.5" height="4.1" fill="#111"/>
<rect x="128.4" y="206.1" width="2.5" height="4.1" fill="#111"/>
<rect x="127.8" y="222.3" width="2.5" height="4.1" fill="#111"/>
<rect x="107.2" y="220.6" width="2.5" height="4.1" fill="#111"/>
<rect x="128.5" y="240.5" width="2.5" height="4.1" fill="#111"/>
<rect x="131.9" y="211.7" width="2.5" height="4.1" fill="#111"/>
<rect x="116.3" y="234.6" width="2.5" height="4.1" fill="#111"/>
<rect x="107.1" y="228.5" width="2.5" height="4.1" fill="#111"/>
<rect x="121.0" y="240.4" width="2.5" height="4.1" fill="#111"/>
<rect x="106.3" y="215.9" width="2.5" height="4.1" fill="#111"/>
<rect x="107.1" y="246.0" width="2.5" height="4.1" fill="#111"/>
<rect x="133.0" y="229.8" width="2.5" height="4.1" fill="#111"/>
<rect x="120.9" y="230.0" width="2.5" height="4.1" fill="#111"/>
<rect x="120.6" y="226.1" width="2.5" height="4.1" fill="#111"/>
<rect x="113.1" y="212.3" width="2.5" height="4.1" fill="#111"/>
<rect x="108.8" y="245.2" width="2.5" height="4.1" fill="#111"/>
<rect x="125.3" y="230.3" width="2.5" height="4.1" fill="#111"/>
<rect x="114.7" y="228.0" width="2.5" height="4.1" fill="#111"/>
<rect x="122.7" y="221.5" width="2.5" height="4.1" fill="#111"/>
<rect x="120.5" y="231.3" width="2.5" height="4.1" fill="#111"/>
<rect x="107.3" y="216.5" width="2.5" height="4.1" fill="#111"/>
<rect x="103.8" y="212.6" width="2.5" height="4.1" fill="#111"/>
<rect x="130.2" y="203.2" width="2.5" height="4.1" fill="#111"/>
<rect x="114.0" y="220.0" width="2.5" height="4.1" fill="#111"/>
<rect x="109.1" y="227.2" width="2.5" height="4.1" fill="#111"/>
<rect x="133.5" y="232.2" width="2.5" height="4.1" fill="#111"/>
<rect x="115.8" y="220.4" width="2.5" height="4.1" fill="#111"/>
<rect x="115.9" y="238.2" width="2.5" height="4.1" fill="#111"/>
<rect x="112.2" y="213.4" width="2.5" height="4.1" fill="#111"/>
<rect x="100.1" y="211.3" width="2.5" height="4.1" fill="#111"/>
<rect x="98.3" y="236.5" width="2.5" height="4.1" fill="#111"/>
<rect x="122.7" y="226.3" width="2.5" height="4.1" fill="#111"/>
<rect x="138.2" y="224.7" width="2.5" height="4.1" fill="#111"/>
<rect x="128.3" y="239.5" width="2.5" height="4.1" fill="#111"/>
<rect x="96.1" y="205.2" width="2.5" height="4.1" fill="#111"/>
<rect x="104.8" y="235.7" width="2.5" height="4.1" fill="#111"/>
<rect x="135.9" y="217.6" width="2.5" height="4.1" fill="#111"/>
<rect x="132.4" y="226.6" width="2.5" height="4.1" fill="#111"/>
<rect x="112.2" y="220.4" width="2.5" height="4.1" fill="#111"/>
<rect x="113.2" y="205.9" width="2.5" height="4.1" fill="#111"/>
<rect x="103.7" y="210.6" width="2.5" height="4.1" fill="#111"/>
<rect x="93.7" y="218.1" width="2.5" height="4.1" fill="#111"/>
<rect x="104.6" y="248.2" width="2.5" height="4.1" fill="#111"/>
<rect x="125.7" y="221.2" width="2.5" height="4.1" fill="#111"/>
<rect x="130.9" y="237.0" width="2.5" height="4.1" fill="#111"/>
<rect x="95.0" y="216.9" width="2.5" height="4.1" fill="#111"/>
<rect x="114.4" y="227.5" width="2.5" height="4.1" fill="#111"/>
<rect x="119.6" y="224.4" width="2.5" height="4.1" fill="#111"/>
<rect x="120.4" y="221.7" width="2.5" height="4.1" fill="#111"/>
<rect x="105.2" y="242.9" width="2.5" height="4.1" fill="#111"/>
<rect x="122.8" y="234.1" width="2.5" height="4.1" fill="#111"/>
<rect x="95.4" y="221.2" width="2.5" height="4.1" fill="#111"/>
<rect x="129.2" y="215.4" width="2.5" height="4.1" fill="#111"/>
<rect x="133.1" y="226.7" width="2.5" height="4.1" fill="#111"/>
<rect x="123.4" y="227.6" width="2.5" height="4.1" fill="#111"/>
<rect x="120.8" y="242.6" width="2.5" height="4.1" fill="#111"/>
<rect x="112.1" y="244.9" width="2.5" height="4.1" fill="#111"/>
<rect x="106.8" y="214.8" width="2.5" height="4.1" fill="#111"/>
<rect x="127.7" y="217.7" width="2.5" height="4.1" fill="#111"/>
<rect x="112.6" y="237.4" width="2.5" height="4.1" fill="#111"/>
<rect x="134.7" y="211.0" width="2.5" height="4.1" fill="#111"/>
<rect x="124.8" y="251.4" width="2.5" height="4.1" fill="#111"/>
<rect x="134.5" y="228.7" width="2.5" height="4.1" fill="#111"/>
<rect x="109.3" y="222.7" width="2.5" height="4.1" fill="#111"/>
<rect x="101.6" y="221.4" width="2.5" height="4.1" fill="#111"/>
<rect x="115.1" y="225.7" width="2.5" height="4.1" fill="#111"/>
<rect x="134.3" y="228.8" width="2.5" height="4.1" fill="#111"/>
<rect x="97.3" y="235.8" width="2.5" height="4.1" fill="#111"/>
<rect x="102.7" y="219.5" width="2.5" height="4.1" fill="#111"/>
<rect x="115.9" y="223.5" width="2.5" height="4.1" fill="#111"/>
<rect x="103.7" y="222.0" width="2.5" height="4.1" fill="#111"/>
<rect x="148.3" y="227.5" width="2.5" height="4.1" fill="#111"/>
<rect x="115.8" y="240.6" width="2.5" height="4.1" fill="#111"/>
<rect x="128.2" y="239.1" width="2.5" height="4.1" fill="#111"/>
<rect x="129.8" y="207.7" width="2.5" height="4.1" fill="#111"/>
<rect x="105.7" y="226.8" width="2.5" height="4.1" fill="#111"/>
<rect x="124.7" y="244.5" width="2.5" height="4.1" fill="#111"/>
<rect x="124.3" y="226.6" width="2.5" height="4.1" fill="#111"/>
<rect x="118.3" y="225.6" width="2.5" height="4.1" fill="#111"/>
<rect x="146.7" y="246.0" width="2.5" height="4.1" fill="#111"/>
<rect x="142.0" y="234.8" width="2.5" height="4.1" fill="#111"/>
<rect x="137.9" y="246.9" width="2.5" height="4.1" fill="#111"/>
<rect x="155.0" y="249.9" width="2.5" height="4.1" fill="#111"/>
<rect x="151.6" y="248.1" width="2.5" height="4.1" fill="#111"/>
<rect x="144.7" y="245.4" width="2.5" height="4.1" fill="#111"/>
<rect x="136.3" y="237.7" width="2.5" height="4.1" fill="#111"/>
<rect x="138.9" y="244.6" width="2.5" height="4.1" fill="#111"/>
<rect x="140.1" y="239.2" width="2.5" height="4.1" fill="#111"/>
<rect x="148.0" y="250.8" width="2.5" height="4.1" fill="#111"/>
<rect x="138.4" y="233.2" width="2.5" height="4.1" fill="#111"/>
<rect x="151.3" y="234.9" width="2.5" height="4.1" fill="#111"/>
<rect x="148.4" y="237.9" width="2.5" height="4.1" fill="#111"/>
<rect x="143.9" y="228.4" width="2.5" height="4.1" fill="#111"/>
<rect x="150.5" y="238.8" width="2.5" height="4.1" fill="#111"/>
<rect x="137.6" y="253.5" width="2.5" height="4.1" fill="#111"/>
<rect x="148.0" y="239.3" width="2.5" height="4.1" fill="#111"/>
<rect x="145.6" y="252.0" width="2.5" height="4.1" fill="#111"/>
<rect x="144.5" y="244.0" width="2.5" height="4.1" fill="#111"/>
<rect x="148.9" y="235.7" width="2.5" height="4.1" fill="#111"/>
<rect x="145.8" y="237.8" width="2.5" height="4.1" fill="#111"/>
<rect x="134.8" y="244.7" width="2.5" height="4.1" fill="#111"/>
<rect x="150.1" y="242.6" width="2.5" height="4.1" fill="#111"/>
<rect x="148.6" y="241.1" width="2.5" height="4.1" fill="#111"/>
<rect x="131.3" y="237.6" width="2.5" height="4.1" fill="#111"/>
<rect x="132.6" y="238.1" width="2.5" height="4.1" fill="#111"/>
<rect x="145.9" y="243.6" width="2.5" height="4.1" fill="#111"/>
<rect x="146.5" y="242.5" width="2.5" height="4.1" fill="#111"/>
<rect x="135.6" y="236.4" width="2.5" height="4.1" fill="#111"/>
<rect x="140.7" y="238.5" width="2.5" height="4.1" fill="#111"/>
<rect x="146.9" y="245.6" width="2.5" height="4.1" fill="#111"/>
<rect x="157.8" y="226.4" width="2.5" height="4.1" fill="#111"/>
<rect x="148.0" y="240.3" width="2.5" height="4.1" fill="#111"/>
<rect x="131.5" y="240.8" width="2.5" height="4.1" fill="#111"/>
<rect x="140.6" y="246.8" width="2.5" height="4.1" fill="#111"/>
<rect x="136.3" y="238.4" width="2.5" height="4.1" fill="#111"/>
<rect x="135.2" y="246.1" width="2.5" height="4.1" fill="#111"/>
<rect x="140.6" y="257.8" width="2.5" height="4.1" fill="#111"/>
<rect x="112.5" y="252.3" width="2.5" height="4.1" fill="#111"/>
<rect x="142.7" y="251.6" width="2.5" height="4.1" fill="#111"/>
<rect x="113.3" y="248.3" width="2.5" height="4.1" fill="#111"/>
<rect x="130.4" y="246.2" width="2.5" height="4.1" fill="#111"/>
<rect x="151.0" y="257.2" width="2.5" height="4.1" fill="#111"/>
<rect x="140.8" y="258.0" width="2.5" height="4.1" fill="#111"/>
<rect x="136.7" y="251.6" width="2.5" height="4.1" fill="#111"/>
<rect x="135.1" y="253.0" width="2.5" height="4.1" fill="#111"/>
<rect x="155.8" y="257.2" width="2.5" height="4.1" fill="#111"/>
<rect x="116.7" y="258.7" width="2.5" height="4.1" fill="#111"/>
<rect x="80.3" y="213.6" width="2.5" height="4.1" fill="#111"/>
<rect x="83.6" y="218.1" width="2.5" height="4.1" fill="#111"/>
<rect x="92.2" y="218.5" width="2.5" height="4.1" fill="#111"/>
<rect x="76.7" y="213.4" width="2.5" height="4.1" fill="#111"/>
<rect x="81.4" y="217.3" width="2.5" height="4.1" fill="#111"/>
<rect x="80.3" y="220.1" width="2.5" height="4.1" fill="#111"/>
<rect x="76.5" y="225.5" width="2.5" height="4.1" fill="#111"/>
<rect x="87.3" y="223.7" width="2.5" height="4.1" fill="#111"/>
<rect x="64.7" y="210.2" width="2.5" height="4.1" fill="#111"/>
<rect x="68.8" y="222.3" width="2.5" height="4.1" fill="#111"/>
<rect x="70.5" y="223.4" width="2.5" height="4.1" fill="#111"/>
<rect x="68.2" y="224.4" width="2.5" height="4.1" fill="#111"/>
<rect x="86.2" y="207.8" width="2.5" height="4.1" fill="#111"/>
<rect x="84.5" y="213.5" width="2.5" height="4.1" fill="#111"/>
<rect x="89.8" y="211.9" width="2.5" height="4.1" fill="#111"/>
<rect x="90.2" y="216.0" width="2.5" height="4.1" fill="#111"/>
<rect x="80.3" y="221.8" width="2.5" height="4.1" fill="#111"/>
<rect x="78.7" y="230.9" width="2.5" height="4.1" fill="#111"/>
<rect x="82.0" y="230.9" width="2.5" height="4.1" fill="#111"/>
<rect x="84.5" y="226.8" width="2.5" height="4.1" fill="#111"/>
<rect x="82.8" y="247.4" width="2.5" height="4.1" fill="#111"/>
<rect x="97.3" y="247.4" width="2.5" height="4.1" fill="#111"/>
<rect x="99.3" y="239.9" width="2.5" height="4.1" fill="#111"/>
<rect x="108.3" y="201.2" width="2.5" height="4.1" fill="#111"/>
<rect x="102.7" y="268.8" width="2.5" height="4.1" fill="#111"/>
<rect x="110.0" y="257.3" width="2.5" height="4.1" fill="#111"/>
<rect x="101.0" y="207.8" width="2.5" height="4.1" fill="#111"/>
<rect x="164.8" y="230.0" width="2.5" height="4.1" fill="#111"/>
<rect x="159.9" y="234.9" width="2.5" height="4.1" fill="#111"/>
<rect x="165.8" y="239.1" width="2.5" height="4.1" fill="#111"/>
<rect x="133.6" y="259.8" width="2.5" height="4.1" fill="#111"/>
<rect x="119.5" y="258.9" width="2.5" height="4.1" fill="#111"/>
<rect x="110.5" y="257.3" width="2.5" height="4.1" fill="#111"/>
<rect x="138.4" y="209.4" width="2.5" height="4.1" fill="#111"/>
<rect x="139.2" y="213.5" width="2.5" height="4.1" fill="#111"/>
<rect x="142.6" y="216.9" width="2.5" height="4.1" fill="#111"/>
<rect x="145.8" y="223.4" width="2.5" height="4.1" fill="#111"/>
<rect x="116.2" y="203.6" width="2.5" height="4.1" fill="#111"/>
<rect x="126.9" y="204.5" width="2.5" height="4.1" fill="#111"/>
<rect x="143.4" y="250.8" width="2.5" height="4.1" fill="#111"/>
<rect x="150.8" y="255.6" width="2.5" height="4.1" fill="#111"/>
<rect x="147.6" y="251.5" width="2.5" height="4.1" fill="#111"/>
<rect x="155.8" y="249.0" width="2.5" height="4.1" fill="#111"/>
<rect x="158.2" y="245.8" width="2.5" height="4.1" fill="#111"/>
<line x1="66.00" y1="218.70" x2="168.50" y2="245.00" stroke="#808080" stroke-width="1.2" />
<polyline points="66.0,213.7 68.6,214.6 71.1,215.5 73.7,216.3 76.2,217.2 78.8,218.0 81.4,218.8 83.9,219.7 86.5,220.5 89.1,221.3 91.6,222.2 94.2,223.0 96.8,223.8 99.3,224.6 101.9,225.3 104.4,226.1 107.0,226.9 109.6,227.6 112.1,228.3 114.7,229.0 117.2,229.6 119.8,230.3 122.4,230.9 124.9,231.5 127.5,232.1 130.1,232.7 132.6,233.2 135.2,233.7 137.8,234.3 140.3,234.8 142.9,235.3 145.4,235.8 148.0,236.3 150.6,236.7 153.1,237.2 155.7,237.7 158.2,238.2 160.8,238.6 163.4,239.1 165.9,239.5 168.5,240.0" fill="none" stroke="#555" stroke-width="0.9" stroke-dasharray="1.2,1.8"/>
<polyline points="66.0,223.7 68.6,224.1 71.1,224.6 73.7,225.0 76.2,225.5 78.8,226.0 81.4,226.5 83.9,226.9 86.5,227.4 89.1,227.9 91.6,228.4 94.2,228.9 96.8,229.4 99.3,229.9 101.9,230.5 104.4,231.0 107.0,231.6 109.6,232.2 112.1,232.8 114.7,233.4 117.2,234.1 119.8,234.7 122.4,235.4 124.9,236.1 127.5,236.9 130.1,237.6 132.6,238.4 135.2,239.2 137.8,240.0 140.3,240.8 142.9,241.6 145.4,242.4 148.0,243.2 150.6,244.1 153.1,244.9 155.7,245.7 158.2,246.6 160.8,247.4 163.4,248.3 165.9,249.1 168.5,250.0" fill="none" stroke="#555" stroke-width="0.9" stroke-dasharray="1.2,1.8"/>
<rect x="277.7" y="233.6" width="2.5" height="4.1" fill="#111"/>
<rect x="272.8" y="239.0" width="2.5" height="4.1" fill="#111"/>
<rect x="261.7" y="222.3" width="2.5" height="4.1" fill="#111"/>
<rect x="278.1" y="230.1" width="2.5" height="4.1" fill="#111"/>
<rect x="282.5" y="234.0" width="2.5" height="4.1" fill="#111"/>
<rect x="241.8" y="209.6" width="2.5" height="4.1" fill="#111"/>
<rect x="256.3" y="205.8" width="2.5" height="4.1" fill="#111"/>
<rect x="268.5" y="229.2" width="2.5" height="4.1" fill="#111"/>
<rect x="284.5" y="226.9" width="2.5" height="4.1" fill="#111"/>
<rect x="266.1" y="238.7" width="2.5" height="4.1" fill="#111"/>
<rect x="281.4" y="224.2" width="2.5" height="4.1" fill="#111"/>
<rect x="293.7" y="232.3" width="2.5" height="4.1" fill="#111"/>
<rect x="288.6" y="234.7" width="2.5" height="4.1" fill="#111"/>
<rect x="263.2" y="216.4" width="2.5" height="4.1" fill="#111"/>
<rect x="259.7" y="248.3" width="2.5" height="4.1" fill="#111"/>
<rect x="290.6" y="234.2" width="2.5" height="4.1" fill="#111"/>
<rect x="287.3" y="254.2" width="2.5" height="4.1" fill="#111"/>
<rect x="265.0" y="225.4" width="2.5" height="4.1" fill="#111"/>
<rect x="287.4" y="242.1" width="2.5" height="4.1" fill="#111"/>
<rect x="251.7" y="227.3" width="2.5" height="4.1" fill="#111"/>
<rect x="251.2" y="236.7" width="2.5" height="4.1" fill="#111"/>
<rect x="280.9" y="231.2" width="2.5" height="4.1" fill="#111"/>
<rect x="255.8" y="239.6" width="2.5" height="4.1" fill="#111"/>
<rect x="263.8" y="245.8" width="2.5" height="4.1" fill="#111"/>
<rect x="254.3" y="225.4" width="2.5" height="4.1" fill="#111"/>
<rect x="261.2" y="218.4" width="2.5" height="4.1" fill="#111"/>
<rect x="259.9" y="239.6" width="2.5" height="4.1" fill="#111"/>
<rect x="286.9" y="233.8" width="2.5" height="4.1" fill="#111"/>
<rect x="264.3" y="234.4" width="2.5" height="4.1" fill="#111"/>
<rect x="277.0" y="230.8" width="2.5" height="4.1" fill="#111"/>
<rect x="256.4" y="226.2" width="2.5" height="4.1" fill="#111"/>
<rect x="263.1" y="240.4" width="2.5" height="4.1" fill="#111"/>
<rect x="271.2" y="236.2" width="2.5" height="4.1" fill="#111"/>
<rect x="243.7" y="221.2" width="2.5" height="4.1" fill="#111"/>
<rect x="263.7" y="225.2" width="2.5" height="4.1" fill="#111"/>
<rect x="268.0" y="229.0" width="2.5" height="4.1" fill="#111"/>
<rect x="245.9" y="237.5" width="2.5" height="4.1" fill="#111"/>
<rect x="284.4" y="231.1" width="2.5" height="4.1" fill="#111"/>
<rect x="279.8" y="224.9" width="2.5" height="4.1" fill="#111"/>
<rect x="250.1" y="225.2" width="2.5" height="4.1" fill="#111"/>
<rect x="294.5" y="238.9" width="2.5" height="4.1" fill="#111"/>
<rect x="245.9" y="229.3" width="2.5" height="4.1" fill="#111"/>
<rect x="261.0" y="222.3" width="2.5" height="4.1" fill="#111"/>
<rect x="275.7" y="214.3" width="2.5" height="4.1" fill="#111"/>
<rect x="241.9" y="208.2" width="2.5" height="4.1" fill="#111"/>
<rect x="287.3" y="239.4" width="2.5" height="4.1" fill="#111"/>
<rect x="260.7" y="222.7" width="2.5" height="4.1" fill="#111"/>
<rect x="280.7" y="251.2" width="2.5" height="4.1" fill="#111"/>
<rect x="258.9" y="233.5" width="2.5" height="4.1" fill="#111"/>
<rect x="265.2" y="236.2" width="2.5" height="4.1" fill="#111"/>
<rect x="272.2" y="242.1" width="2.5" height="4.1" fill="#111"/>
<rect x="276.1" y="229.4" width="2.5" height="4.1" fill="#111"/>
<rect x="268.6" y="237.7" width="2.5" height="4.1" fill="#111"/>
<rect x="259.7" y="231.6" width="2.5" height="4.1" fill="#111"/>
<rect x="256.1" y="244.3" width="2.5" height="4.1" fill="#111"/>
<rect x="295.1" y="230.4" width="2.5" height="4.1" fill="#111"/>
<rect x="283.9" y="239.5" width="2.5" height="4.1" fill="#111"/>
<rect x="272.0" y="231.2" width="2.5" height="4.1" fill="#111"/>
<rect x="274.8" y="246.8" width="2.5" height="4.1" fill="#111"/>
<rect x="251.3" y="240.4" width="2.5" height="4.1" fill="#111"/>
<rect x="266.4" y="219.7" width="2.5" height="4.1" fill="#111"/>
<rect x="269.8" y="241.1" width="2.5" height="4.1" fill="#111"/>
<rect x="269.2" y="236.9" width="2.5" height="4.1" fill="#111"/>
<rect x="265.3" y="226.0" width="2.5" height="4.1" fill="#111"/>
<rect x="286.4" y="227.2" width="2.5" height="4.1" fill="#111"/>
<rect x="286.3" y="242.2" width="2.5" height="4.1" fill="#111"/>
<rect x="266.2" y="230.0" width="2.5" height="4.1" fill="#111"/>
<rect x="266.1" y="232.2" width="2.5" height="4.1" fill="#111"/>
<rect x="269.9" y="232.0" width="2.5" height="4.1" fill="#111"/>
<rect x="276.0" y="228.0" width="2.5" height="4.1" fill="#111"/>
<rect x="261.7" y="229.4" width="2.5" height="4.1" fill="#111"/>
<rect x="253.3" y="247.1" width="2.5" height="4.1" fill="#111"/>
<rect x="270.6" y="231.8" width="2.5" height="4.1" fill="#111"/>
<rect x="254.1" y="239.6" width="2.5" height="4.1" fill="#111"/>
<rect x="281.9" y="254.4" width="2.5" height="4.1" fill="#111"/>
<rect x="284.6" y="228.3" width="2.5" height="4.1" fill="#111"/>
<rect x="250.9" y="244.3" width="2.5" height="4.1" fill="#111"/>
<rect x="260.1" y="229.7" width="2.5" height="4.1" fill="#111"/>
<rect x="268.2" y="239.0" width="2.5" height="4.1" fill="#111"/>
<rect x="279.2" y="224.2" width="2.5" height="4.1" fill="#111"/>
<rect x="260.7" y="210.8" width="2.5" height="4.1" fill="#111"/>
<rect x="279.4" y="234.4" width="2.5" height="4.1" fill="#111"/>
<rect x="244.4" y="238.6" width="2.5" height="4.1" fill="#111"/>
<rect x="270.8" y="222.2" width="2.5" height="4.1" fill="#111"/>
<rect x="264.2" y="225.3" width="2.5" height="4.1" fill="#111"/>
<rect x="272.3" y="236.7" width="2.5" height="4.1" fill="#111"/>
<rect x="261.7" y="236.4" width="2.5" height="4.1" fill="#111"/>
<rect x="280.7" y="247.8" width="2.5" height="4.1" fill="#111"/>
<rect x="283.1" y="225.3" width="2.5" height="4.1" fill="#111"/>
<rect x="244.5" y="222.6" width="2.5" height="4.1" fill="#111"/>
<rect x="259.2" y="211.2" width="2.5" height="4.1" fill="#111"/>
<rect x="272.9" y="229.3" width="2.5" height="4.1" fill="#111"/>
<rect x="278.3" y="238.2" width="2.5" height="4.1" fill="#111"/>
<rect x="282.8" y="230.3" width="2.5" height="4.1" fill="#111"/>
<rect x="252.1" y="215.2" width="2.5" height="4.1" fill="#111"/>
<rect x="254.2" y="233.9" width="2.5" height="4.1" fill="#111"/>
<rect x="285.6" y="234.7" width="2.5" height="4.1" fill="#111"/>
<rect x="290.0" y="246.5" width="2.5" height="4.1" fill="#111"/>
<rect x="270.4" y="213.4" width="2.5" height="4.1" fill="#111"/>
<rect x="262.1" y="219.3" width="2.5" height="4.1" fill="#111"/>
<rect x="291.7" y="246.8" width="2.5" height="4.1" fill="#111"/>
<rect x="259.2" y="224.5" width="2.5" height="4.1" fill="#111"/>
<rect x="253.1" y="212.8" width="2.5" height="4.1" fill="#111"/>
<rect x="271.5" y="224.1" width="2.5" height="4.1" fill="#111"/>
<rect x="269.2" y="229.9" width="2.5" height="4.1" fill="#111"/>
<rect x="273.7" y="218.6" width="2.5" height="4.1" fill="#111"/>
<rect x="257.0" y="228.0" width="2.5" height="4.1" fill="#111"/>
<rect x="266.6" y="239.4" width="2.5" height="4.1" fill="#111"/>
<rect x="274.6" y="213.5" width="2.5" height="4.1" fill="#111"/>
<rect x="245.6" y="215.7" width="2.5" height="4.1" fill="#111"/>
<rect x="260.8" y="214.7" width="2.5" height="4.1" fill="#111"/>
<rect x="254.6" y="213.4" width="2.5" height="4.1" fill="#111"/>
<rect x="251.6" y="218.1" width="2.5" height="4.1" fill="#111"/>
<rect x="242.8" y="219.9" width="2.5" height="4.1" fill="#111"/>
<rect x="254.5" y="212.1" width="2.5" height="4.1" fill="#111"/>
<rect x="270.1" y="229.2" width="2.5" height="4.1" fill="#111"/>
<rect x="257.1" y="204.7" width="2.5" height="4.1" fill="#111"/>
<rect x="272.3" y="212.8" width="2.5" height="4.1" fill="#111"/>
<rect x="270.0" y="239.4" width="2.5" height="4.1" fill="#111"/>
<rect x="271.7" y="225.2" width="2.5" height="4.1" fill="#111"/>
<rect x="282.7" y="234.2" width="2.5" height="4.1" fill="#111"/>
<rect x="289.6" y="237.8" width="2.5" height="4.1" fill="#111"/>
<rect x="266.2" y="214.9" width="2.5" height="4.1" fill="#111"/>
<rect x="247.0" y="211.1" width="2.5" height="4.1" fill="#111"/>
<rect x="269.2" y="227.6" width="2.5" height="4.1" fill="#111"/>
<rect x="285.1" y="240.3" width="2.5" height="4.1" fill="#111"/>
<rect x="274.3" y="239.3" width="2.5" height="4.1" fill="#111"/>
<rect x="269.0" y="245.1" width="2.5" height="4.1" fill="#111"/>
<rect x="275.5" y="232.9" width="2.5" height="4.1" fill="#111"/>
<rect x="262.8" y="220.6" width="2.5" height="4.1" fill="#111"/>
<rect x="299.0" y="246.8" width="2.5" height="4.1" fill="#111"/>
<rect x="276.3" y="234.6" width="2.5" height="4.1" fill="#111"/>
<rect x="289.9" y="244.2" width="2.5" height="4.1" fill="#111"/>
<rect x="291.7" y="248.1" width="2.5" height="4.1" fill="#111"/>
<rect x="273.2" y="242.6" width="2.5" height="4.1" fill="#111"/>
<rect x="272.4" y="247.6" width="2.5" height="4.1" fill="#111"/>
<rect x="265.4" y="241.3" width="2.5" height="4.1" fill="#111"/>
<rect x="295.3" y="238.4" width="2.5" height="4.1" fill="#111"/>
<rect x="266.5" y="236.7" width="2.5" height="4.1" fill="#111"/>
<rect x="275.4" y="235.4" width="2.5" height="4.1" fill="#111"/>
<rect x="277.0" y="242.5" width="2.5" height="4.1" fill="#111"/>
<rect x="269.7" y="248.2" width="2.5" height="4.1" fill="#111"/>
<rect x="278.7" y="241.7" width="2.5" height="4.1" fill="#111"/>
<rect x="293.1" y="248.3" width="2.5" height="4.1" fill="#111"/>
<rect x="294.9" y="249.5" width="2.5" height="4.1" fill="#111"/>
<rect x="229.2" y="215.1" width="2.5" height="4.1" fill="#111"/>
<rect x="234.6" y="210.4" width="2.5" height="4.1" fill="#111"/>
<rect x="233.8" y="214.4" width="2.5" height="4.1" fill="#111"/>
<rect x="231.2" y="220.5" width="2.5" height="4.1" fill="#111"/>
<rect x="233.8" y="228.5" width="2.5" height="4.1" fill="#111"/>
<rect x="235.8" y="231.9" width="2.5" height="4.1" fill="#111"/>
<rect x="239.2" y="230.5" width="2.5" height="4.1" fill="#111"/>
<rect x="240.6" y="235.9" width="2.5" height="4.1" fill="#111"/>
<rect x="237.2" y="237.3" width="2.5" height="4.1" fill="#111"/>
<rect x="231.2" y="243.9" width="2.5" height="4.1" fill="#111"/>
<rect x="241.8" y="246.0" width="2.5" height="4.1" fill="#111"/>
<rect x="244.6" y="247.3" width="2.5" height="4.1" fill="#111"/>
<rect x="231.8" y="261.4" width="2.5" height="4.1" fill="#111"/>
<rect x="244.8" y="197.2" width="2.5" height="4.1" fill="#111"/>
<rect x="256.1" y="197.8" width="2.5" height="4.1" fill="#111"/>
<rect x="263.2" y="196.5" width="2.5" height="4.1" fill="#111"/>
<rect x="231.9" y="262.6" width="2.5" height="4.1" fill="#111"/>
<rect x="230.2" y="243.4" width="2.5" height="4.1" fill="#111"/>
<rect x="302.9" y="232.6" width="2.5" height="4.1" fill="#111"/>
<rect x="308.9" y="233.8" width="2.5" height="4.1" fill="#111"/>
<rect x="317.4" y="252.5" width="2.5" height="4.1" fill="#111"/>
<rect x="313.8" y="260.9" width="2.5" height="4.1" fill="#111"/>
<rect x="325.8" y="247.8" width="2.5" height="4.1" fill="#111"/>
<rect x="334.1" y="244.6" width="2.5" height="4.1" fill="#111"/>
<rect x="262.1" y="267.4" width="2.5" height="4.1" fill="#111"/>
<rect x="268.1" y="265.1" width="2.5" height="4.1" fill="#111"/>
<rect x="271.6" y="272.2" width="2.5" height="4.1" fill="#111"/>
<rect x="277.6" y="269.8" width="2.5" height="4.1" fill="#111"/>
<rect x="278.9" y="262.6" width="2.5" height="4.1" fill="#111"/>
<rect x="283.6" y="261.4" width="2.5" height="4.1" fill="#111"/>
<rect x="289.6" y="254.2" width="2.5" height="4.1" fill="#111"/>
<rect x="228.3" y="215.8" width="2.5" height="4.1" fill="#111"/>
<rect x="234.3" y="209.8" width="2.5" height="4.1" fill="#111"/>
<rect x="235.6" y="229.0" width="2.5" height="4.1" fill="#111"/>
<rect x="237.9" y="236.2" width="2.5" height="4.1" fill="#111"/>
<rect x="242.8" y="247.0" width="2.5" height="4.1" fill="#111"/>
<rect x="234.8" y="211.9" width="2.5" height="4.1" fill="#111"/>
<rect x="232.8" y="223.9" width="2.5" height="4.1" fill="#111"/>
<rect x="231.2" y="232.9" width="2.5" height="4.1" fill="#111"/>
<rect x="244.8" y="200.9" width="2.5" height="4.1" fill="#111"/>
<rect x="248.8" y="203.9" width="2.5" height="4.1" fill="#111"/>
<rect x="243.8" y="205.9" width="2.5" height="4.1" fill="#111"/>
<rect x="249.8" y="208.9" width="2.5" height="4.1" fill="#111"/>
<rect x="239.8" y="237.9" width="2.5" height="4.1" fill="#111"/>
<rect x="241.8" y="240.9" width="2.5" height="4.1" fill="#111"/>
<rect x="252.8" y="202.9" width="2.5" height="4.1" fill="#111"/>
<rect x="258.8" y="200.9" width="2.5" height="4.1" fill="#111"/>
<rect x="270.8" y="205.9" width="2.5" height="4.1" fill="#111"/>
<rect x="283.8" y="208.9" width="2.5" height="4.1" fill="#111"/>
<rect x="281.8" y="213.9" width="2.5" height="4.1" fill="#111"/>
<rect x="290.8" y="219.9" width="2.5" height="4.1" fill="#111"/>
<rect x="297.8" y="226.9" width="2.5" height="4.1" fill="#111"/>
<rect x="299.8" y="247.9" width="2.5" height="4.1" fill="#111"/>
<rect x="294.8" y="252.9" width="2.5" height="4.1" fill="#111"/>
<rect x="285.8" y="255.9" width="2.5" height="4.1" fill="#111"/>
<rect x="274.8" y="259.9" width="2.5" height="4.1" fill="#111"/>
<rect x="266.8" y="255.9" width="2.5" height="4.1" fill="#111"/>
<rect x="260.8" y="252.9" width="2.5" height="4.1" fill="#111"/>
<rect x="256.8" y="257.9" width="2.5" height="4.1" fill="#111"/>
<rect x="250.8" y="249.9" width="2.5" height="4.1" fill="#111"/>
<line x1="229.00" y1="225.20" x2="336.00" y2="254.20" stroke="#808080" stroke-width="1.2" />
<polyline points="229.0,220.0 231.7,221.0 234.3,221.9 237.0,222.9 239.7,223.9 242.4,224.8 245.1,225.8 247.7,226.7 250.4,227.7 253.1,228.6 255.8,229.5 258.4,230.4 261.1,231.2 263.8,232.0 266.4,232.8 269.1,233.6 271.8,234.3 274.5,235.0 277.1,235.6 279.8,236.2 282.5,236.8 285.2,237.4 287.9,237.9 290.5,238.5 293.2,239.0 295.9,239.5 298.6,240.0 301.2,240.5 303.9,241.0 306.6,241.4 309.2,241.9 311.9,242.4 314.6,242.8 317.3,243.3 319.9,243.7 322.6,244.2 325.3,244.6 328.0,245.1 330.6,245.5 333.3,246.0 336.0,246.4" fill="none" stroke="#555" stroke-width="0.9" stroke-dasharray="1.2,1.8"/>
<polyline points="229.0,230.4 231.7,230.9 234.3,231.4 237.0,231.8 239.7,232.3 242.4,232.8 245.1,233.3 247.7,233.8 250.4,234.3 253.1,234.9 255.8,235.4 258.4,236.0 261.1,236.6 263.8,237.2 266.4,237.9 269.1,238.6 271.8,239.3 274.5,240.1 277.1,240.9 279.8,241.7 282.5,242.6 285.2,243.4 287.9,244.4 290.5,245.3 293.2,246.2 295.9,247.2 298.6,248.1 301.2,249.1 303.9,250.0 306.6,251.0 309.2,252.0 311.9,253.0 314.6,254.0 317.3,255.0 319.9,256.0 322.6,257.0 325.3,258.0 328.0,259.0 330.6,260.0 333.3,261.0 336.0,262.0" fill="none" stroke="#555" stroke-width="0.9" stroke-dasharray="1.2,1.8"/>
<rect x="422.3" y="225.1" width="2.5" height="4.1" fill="#111"/>
<rect x="448.0" y="226.2" width="2.5" height="4.1" fill="#111"/>
<rect x="423.3" y="214.1" width="2.5" height="4.1" fill="#111"/>
<rect x="451.4" y="230.3" width="2.5" height="4.1" fill="#111"/>
<rect x="429.9" y="220.6" width="2.5" height="4.1" fill="#111"/>
<rect x="425.7" y="229.5" width="2.5" height="4.1" fill="#111"/>
<rect x="464.1" y="230.1" width="2.5" height="4.1" fill="#111"/>
<rect x="438.4" y="240.6" width="2.5" height="4.1" fill="#111"/>
<rect x="437.5" y="232.5" width="2.5" height="4.1" fill="#111"/>
<rect x="422.4" y="220.9" width="2.5" height="4.1" fill="#111"/>
<rect x="415.0" y="238.9" width="2.5" height="4.1" fill="#111"/>
<rect x="461.1" y="229.2" width="2.5" height="4.1" fill="#111"/>
<rect x="439.4" y="228.2" width="2.5" height="4.1" fill="#111"/>
<rect x="440.4" y="239.4" width="2.5" height="4.1" fill="#111"/>
<rect x="464.0" y="225.0" width="2.5" height="4.1" fill="#111"/>
<rect x="452.8" y="240.0" width="2.5" height="4.1" fill="#111"/>
<rect x="443.3" y="240.9" width="2.5" height="4.1" fill="#111"/>
<rect x="462.2" y="235.3" width="2.5" height="4.1" fill="#111"/>
<rect x="437.4" y="241.8" width="2.5" height="4.1" fill="#111"/>
<rect x="445.8" y="237.6" width="2.5" height="4.1" fill="#111"/>
<rect x="442.4" y="220.3" width="2.5" height="4.1" fill="#111"/>
<rect x="449.2" y="237.5" width="2.5" height="4.1" fill="#111"/>
<rect x="452.9" y="239.8" width="2.5" height="4.1" fill="#111"/>
<rect x="454.8" y="236.9" width="2.5" height="4.1" fill="#111"/>
<rect x="445.8" y="239.4" width="2.5" height="4.1" fill="#111"/>
<rect x="432.7" y="223.0" width="2.5" height="4.1" fill="#111"/>
<rect x="427.9" y="233.1" width="2.5" height="4.1" fill="#111"/>
<rect x="415.5" y="226.2" width="2.5" height="4.1" fill="#111"/>
<rect x="440.6" y="236.3" width="2.5" height="4.1" fill="#111"/>
<rect x="427.2" y="232.6" width="2.5" height="4.1" fill="#111"/>
<rect x="444.2" y="228.4" width="2.5" height="4.1" fill="#111"/>
<rect x="444.7" y="231.9" width="2.5" height="4.1" fill="#111"/>
<rect x="426.0" y="228.6" width="2.5" height="4.1" fill="#111"/>
<rect x="429.4" y="250.7" width="2.5" height="4.1" fill="#111"/>
<rect x="439.9" y="227.0" width="2.5" height="4.1" fill="#111"/>
<rect x="420.7" y="231.3" width="2.5" height="4.1" fill="#111"/>
<rect x="449.4" y="234.5" width="2.5" height="4.1" fill="#111"/>
<rect x="422.0" y="221.5" width="2.5" height="4.1" fill="#111"/>
<rect x="426.5" y="233.8" width="2.5" height="4.1" fill="#111"/>
<rect x="430.3" y="231.5" width="2.5" height="4.1" fill="#111"/>
<rect x="471.9" y="218.0" width="2.5" height="4.1" fill="#111"/>
<rect x="439.5" y="232.9" width="2.5" height="4.1" fill="#111"/>
<rect x="419.7" y="241.5" width="2.5" height="4.1" fill="#111"/>
<rect x="439.3" y="236.8" width="2.5" height="4.1" fill="#111"/>
<rect x="452.7" y="248.2" width="2.5" height="4.1" fill="#111"/>
<rect x="433.3" y="226.4" width="2.5" height="4.1" fill="#111"/>
<rect x="423.4" y="219.4" width="2.5" height="4.1" fill="#111"/>
<rect x="472.3" y="231.8" width="2.5" height="4.1" fill="#111"/>
<rect x="416.1" y="237.7" width="2.5" height="4.1" fill="#111"/>
<rect x="471.5" y="226.6" width="2.5" height="4.1" fill="#111"/>
<rect x="442.8" y="219.8" width="2.5" height="4.1" fill="#111"/>
<rect x="411.7" y="228.6" width="2.5" height="4.1" fill="#111"/>
<rect x="424.7" y="220.1" width="2.5" height="4.1" fill="#111"/>
<rect x="443.7" y="237.3" width="2.5" height="4.1" fill="#111"/>
<rect x="440.0" y="245.7" width="2.5" height="4.1" fill="#111"/>
<rect x="433.2" y="229.1" width="2.5" height="4.1" fill="#111"/>
<rect x="457.5" y="256.8" width="2.5" height="4.1" fill="#111"/>
<rect x="445.6" y="220.4" width="2.5" height="4.1" fill="#111"/>
<rect x="466.9" y="234.8" width="2.5" height="4.1" fill="#111"/>
<rect x="412.2" y="241.5" width="2.5" height="4.1" fill="#111"/>
<rect x="446.2" y="228.3" width="2.5" height="4.1" fill="#111"/>
<rect x="445.9" y="233.7" width="2.5" height="4.1" fill="#111"/>
<rect x="448.2" y="216.3" width="2.5" height="4.1" fill="#111"/>
<rect x="443.8" y="237.8" width="2.5" height="4.1" fill="#111"/>
<rect x="423.6" y="244.3" width="2.5" height="4.1" fill="#111"/>
<rect x="469.0" y="232.1" width="2.5" height="4.1" fill="#111"/>
<rect x="444.2" y="231.5" width="2.5" height="4.1" fill="#111"/>
<rect x="432.3" y="226.0" width="2.5" height="4.1" fill="#111"/>
<rect x="452.7" y="240.3" width="2.5" height="4.1" fill="#111"/>
<rect x="432.8" y="241.8" width="2.5" height="4.1" fill="#111"/>
<rect x="432.5" y="234.1" width="2.5" height="4.1" fill="#111"/>
<rect x="452.1" y="237.1" width="2.5" height="4.1" fill="#111"/>
<rect x="447.8" y="236.7" width="2.5" height="4.1" fill="#111"/>
<rect x="435.5" y="234.9" width="2.5" height="4.1" fill="#111"/>
<rect x="449.0" y="221.7" width="2.5" height="4.1" fill="#111"/>
<rect x="420.6" y="234.4" width="2.5" height="4.1" fill="#111"/>
<rect x="443.1" y="235.1" width="2.5" height="4.1" fill="#111"/>
<rect x="455.5" y="238.4" width="2.5" height="4.1" fill="#111"/>
<rect x="434.9" y="238.0" width="2.5" height="4.1" fill="#111"/>
<rect x="432.2" y="249.5" width="2.5" height="4.1" fill="#111"/>
<rect x="460.2" y="235.2" width="2.5" height="4.1" fill="#111"/>
<rect x="433.1" y="237.4" width="2.5" height="4.1" fill="#111"/>
<rect x="441.0" y="225.8" width="2.5" height="4.1" fill="#111"/>
<rect x="451.9" y="235.3" width="2.5" height="4.1" fill="#111"/>
<rect x="457.4" y="233.1" width="2.5" height="4.1" fill="#111"/>
<rect x="428.5" y="247.3" width="2.5" height="4.1" fill="#111"/>
<rect x="454.1" y="235.9" width="2.5" height="4.1" fill="#111"/>
<rect x="448.1" y="222.0" width="2.5" height="4.1" fill="#111"/>
<rect x="446.6" y="223.8" width="2.5" height="4.1" fill="#111"/>
<rect x="447.3" y="230.6" width="2.5" height="4.1" fill="#111"/>
<rect x="435.4" y="227.8" width="2.5" height="4.1" fill="#111"/>
<rect x="453.1" y="253.4" width="2.5" height="4.1" fill="#111"/>
<rect x="416.3" y="238.2" width="2.5" height="4.1" fill="#111"/>
<rect x="437.3" y="248.1" width="2.5" height="4.1" fill="#111"/>
<rect x="461.5" y="227.1" width="2.5" height="4.1" fill="#111"/>
<rect x="445.0" y="247.8" width="2.5" height="4.1" fill="#111"/>
<rect x="470.1" y="230.1" width="2.5" height="4.1" fill="#111"/>
<rect x="427.6" y="235.0" width="2.5" height="4.1" fill="#111"/>
<rect x="465.0" y="244.9" width="2.5" height="4.1" fill="#111"/>
<rect x="448.9" y="239.3" width="2.5" height="4.1" fill="#111"/>
<rect x="452.1" y="235.0" width="2.5" height="4.1" fill="#111"/>
<rect x="429.2" y="239.2" width="2.5" height="4.1" fill="#111"/>
<rect x="450.4" y="242.9" width="2.5" height="4.1" fill="#111"/>
<rect x="443.1" y="228.5" width="2.5" height="4.1" fill="#111"/>
<rect x="455.6" y="243.2" width="2.5" height="4.1" fill="#111"/>
<rect x="472.2" y="223.2" width="2.5" height="4.1" fill="#111"/>
<rect x="436.4" y="230.5" width="2.5" height="4.1" fill="#111"/>
<rect x="458.6" y="227.2" width="2.5" height="4.1" fill="#111"/>
<rect x="427.0" y="240.3" width="2.5" height="4.1" fill="#111"/>
<rect x="423.7" y="231.6" width="2.5" height="4.1" fill="#111"/>
<rect x="435.3" y="243.7" width="2.5" height="4.1" fill="#111"/>
<rect x="430.2" y="229.6" width="2.5" height="4.1" fill="#111"/>
<rect x="443.8" y="240.6" width="2.5" height="4.1" fill="#111"/>
<rect x="432.1" y="250.4" width="2.5" height="4.1" fill="#111"/>
<rect x="432.9" y="249.5" width="2.5" height="4.1" fill="#111"/>
<rect x="472.2" y="227.0" width="2.5" height="4.1" fill="#111"/>
<rect x="446.3" y="227.1" width="2.5" height="4.1" fill="#111"/>
<rect x="414.4" y="235.9" width="2.5" height="4.1" fill="#111"/>
<rect x="443.3" y="246.4" width="2.5" height="4.1" fill="#111"/>
<rect x="468.4" y="218.7" width="2.5" height="4.1" fill="#111"/>
<rect x="438.0" y="236.5" width="2.5" height="4.1" fill="#111"/>
<rect x="456.4" y="235.9" width="2.5" height="4.1" fill="#111"/>
<rect x="430.3" y="229.4" width="2.5" height="4.1" fill="#111"/>
<rect x="453.1" y="221.1" width="2.5" height="4.1" fill="#111"/>
<rect x="421.1" y="218.1" width="2.5" height="4.1" fill="#111"/>
<rect x="431.8" y="244.5" width="2.5" height="4.1" fill="#111"/>
<rect x="434.9" y="238.8" width="2.5" height="4.1" fill="#111"/>
<rect x="463.9" y="246.4" width="2.5" height="4.1" fill="#111"/>
<rect x="446.0" y="231.8" width="2.5" height="4.1" fill="#111"/>
<rect x="441.6" y="229.4" width="2.5" height="4.1" fill="#111"/>
<rect x="430.6" y="236.1" width="2.5" height="4.1" fill="#111"/>
<rect x="456.7" y="228.2" width="2.5" height="4.1" fill="#111"/>
<rect x="435.5" y="247.6" width="2.5" height="4.1" fill="#111"/>
<rect x="446.5" y="251.7" width="2.5" height="4.1" fill="#111"/>
<rect x="448.6" y="248.3" width="2.5" height="4.1" fill="#111"/>
<rect x="428.1" y="245.4" width="2.5" height="4.1" fill="#111"/>
<rect x="442.3" y="244.5" width="2.5" height="4.1" fill="#111"/>
<rect x="451.6" y="247.8" width="2.5" height="4.1" fill="#111"/>
<rect x="436.9" y="249.8" width="2.5" height="4.1" fill="#111"/>
<rect x="445.4" y="245.4" width="2.5" height="4.1" fill="#111"/>
<rect x="456.4" y="256.1" width="2.5" height="4.1" fill="#111"/>
<rect x="439.7" y="251.0" width="2.5" height="4.1" fill="#111"/>
<rect x="443.7" y="252.2" width="2.5" height="4.1" fill="#111"/>
<rect x="438.0" y="245.7" width="2.5" height="4.1" fill="#111"/>
<rect x="443.1" y="247.0" width="2.5" height="4.1" fill="#111"/>
<rect x="431.3" y="246.5" width="2.5" height="4.1" fill="#111"/>
<rect x="436.5" y="257.1" width="2.5" height="4.1" fill="#111"/>
<rect x="462.6" y="244.8" width="2.5" height="4.1" fill="#111"/>
<rect x="440.6" y="249.5" width="2.5" height="4.1" fill="#111"/>
<rect x="439.8" y="245.0" width="2.5" height="4.1" fill="#111"/>
<rect x="454.3" y="253.3" width="2.5" height="4.1" fill="#111"/>
<rect x="452.0" y="254.7" width="2.5" height="4.1" fill="#111"/>
<rect x="446.9" y="247.2" width="2.5" height="4.1" fill="#111"/>
<rect x="441.5" y="245.5" width="2.5" height="4.1" fill="#111"/>
<rect x="436.8" y="254.8" width="2.5" height="4.1" fill="#111"/>
<rect x="456.9" y="247.0" width="2.5" height="4.1" fill="#111"/>
<rect x="447.1" y="243.3" width="2.5" height="4.1" fill="#111"/>
<rect x="400.9" y="203.8" width="2.5" height="4.1" fill="#111"/>
<rect x="420.9" y="203.8" width="2.5" height="4.1" fill="#111"/>
<rect x="408.8" y="211.8" width="2.5" height="4.1" fill="#111"/>
<rect x="423.2" y="210.2" width="2.5" height="4.1" fill="#111"/>
<rect x="425.6" y="211.8" width="2.5" height="4.1" fill="#111"/>
<rect x="414.9" y="218.1" width="2.5" height="4.1" fill="#111"/>
<rect x="421.6" y="216.9" width="2.5" height="4.1" fill="#111"/>
<rect x="455.1" y="216.9" width="2.5" height="4.1" fill="#111"/>
<rect x="391.9" y="233.8" width="2.5" height="4.1" fill="#111"/>
<rect x="397.9" y="226.6" width="2.5" height="4.1" fill="#111"/>
<rect x="400.9" y="225.4" width="2.5" height="4.1" fill="#111"/>
<rect x="399.1" y="236.2" width="2.5" height="4.1" fill="#111"/>
<rect x="407.1" y="246.3" width="2.5" height="4.1" fill="#111"/>
<rect x="407.6" y="223.8" width="2.5" height="4.1" fill="#111"/>
<rect x="491.8" y="232.6" width="2.5" height="4.1" fill="#111"/>
<rect x="491.2" y="248.8" width="2.5" height="4.1" fill="#111"/>
<rect x="477.4" y="247.8" width="2.5" height="4.1" fill="#111"/>
<rect x="473.8" y="237.4" width="2.5" height="4.1" fill="#111"/>
<rect x="468.9" y="229.0" width="2.5" height="4.1" fill="#111"/>
<rect x="413.6" y="257.8" width="2.5" height="4.1" fill="#111"/>
<rect x="417.2" y="257.8" width="2.5" height="4.1" fill="#111"/>
<rect x="420.9" y="256.6" width="2.5" height="4.1" fill="#111"/>
<rect x="421.6" y="261.4" width="2.5" height="4.1" fill="#111"/>
<rect x="420.9" y="265.1" width="2.5" height="4.1" fill="#111"/>
<rect x="428.1" y="262.6" width="2.5" height="4.1" fill="#111"/>
<rect x="430.4" y="261.4" width="2.5" height="4.1" fill="#111"/>
<rect x="436.4" y="257.8" width="2.5" height="4.1" fill="#111"/>
<rect x="438.9" y="262.6" width="2.5" height="4.1" fill="#111"/>
<rect x="440.1" y="267.4" width="2.5" height="4.1" fill="#111"/>
<rect x="441.2" y="269.8" width="2.5" height="4.1" fill="#111"/>
<rect x="448.4" y="265.1" width="2.5" height="4.1" fill="#111"/>
<rect x="452.1" y="261.4" width="2.5" height="4.1" fill="#111"/>
<rect x="460.4" y="273.4" width="2.5" height="4.1" fill="#111"/>
<rect x="464.1" y="262.6" width="2.5" height="4.1" fill="#111"/>
<rect x="417.2" y="249.4" width="2.5" height="4.1" fill="#111"/>
<rect x="423.2" y="250.6" width="2.5" height="4.1" fill="#111"/>
<rect x="403.8" y="229.9" width="2.5" height="4.1" fill="#111"/>
<rect x="409.8" y="233.9" width="2.5" height="4.1" fill="#111"/>
<rect x="394.8" y="230.9" width="2.5" height="4.1" fill="#111"/>
<rect x="470.8" y="241.9" width="2.5" height="4.1" fill="#111"/>
<rect x="478.8" y="243.9" width="2.5" height="4.1" fill="#111"/>
<rect x="466.8" y="249.9" width="2.5" height="4.1" fill="#111"/>
<rect x="460.8" y="253.9" width="2.5" height="4.1" fill="#111"/>
<line x1="394.00" y1="230.80" x2="493.60" y2="249.80" stroke="#808080" stroke-width="1.2" />
<polyline points="394.0,226.0 396.5,226.7 399.0,227.3 401.5,228.0 404.0,228.7 406.4,229.4 408.9,230.1 411.4,230.7 413.9,231.4 416.4,232.1 418.9,232.7 421.4,233.3 423.9,234.0 426.4,234.6 428.9,235.2 431.4,235.8 433.8,236.3 436.3,236.8 438.8,237.3 441.3,237.8 443.8,238.3 446.3,238.7 448.8,239.1 451.3,239.5 453.8,239.8 456.2,240.1 458.7,240.5 461.2,240.8 463.7,241.1 466.2,241.4 468.7,241.7 471.2,241.9 473.7,242.2 476.2,242.5 478.7,242.7 481.2,243.0 483.6,243.3 486.1,243.5 488.6,243.8 491.1,244.0 493.6,244.3" fill="none" stroke="#555" stroke-width="0.9" stroke-dasharray="1.2,1.8"/>
<polyline points="394.0,235.6 396.5,235.9 399.0,236.2 401.5,236.4 404.0,236.7 406.4,237.0 408.9,237.2 411.4,237.5 413.9,237.8 416.4,238.1 418.9,238.4 421.4,238.7 423.9,239.0 426.4,239.4 428.9,239.7 431.4,240.1 433.8,240.5 436.3,240.9 438.8,241.4 441.3,241.8 443.8,242.3 446.3,242.9 448.8,243.4 451.3,244.0 453.8,244.6 456.2,245.2 458.7,245.8 461.2,246.5 463.7,247.1 466.2,247.8 468.7,248.4 471.2,249.1 473.7,249.8 476.2,250.5 478.7,251.2 481.2,251.8 483.6,252.5 486.1,253.2 488.6,253.9 491.1,254.6 493.6,255.3" fill="none" stroke="#555" stroke-width="0.9" stroke-dasharray="1.2,1.8"/>
<text x="0.00" y="0.00" font-size="11" font-weight="bold" font-style="normal" text-anchor="middle" fill="#4d4d4d" transform="translate(28.4,241.8) rotate(-90)">E-only<tspan font-family="DejaVu Sans" font-weight="bold" font-size="9" dy="-2.4" stroke="#4d4d4d" stroke-width="0.45">&#8593;</tspan><tspan dy="2.4">metagene</tspan></text>
<text x="22.00" y="344.00" font-size="16" font-weight="bold" font-style="normal" text-anchor="start" fill="#111" >C</text>
<text x="124.40" y="346.20" font-size="11" font-weight="bold" font-style="normal" text-anchor="middle" fill="#111" >POL (<tspan font-style="italic">N</tspan> = 58)</text>
<rect x="66.3" y="351.8" width="116.6" height="113" fill="none" stroke="#c8c8c8" stroke-width="0.9"/>
<text x="62.00" y="360.70" font-size="10" font-weight="normal" font-style="normal" text-anchor="end" fill="#222" >0.8</text>
<text x="62.00" y="376.20" font-size="10" font-weight="normal" font-style="normal" text-anchor="end" fill="#222" >0.6</text>
<text x="62.00" y="391.70" font-size="10" font-weight="normal" font-style="normal" text-anchor="end" fill="#222" >0.4</text>
<text x="62.00" y="407.20" font-size="10" font-weight="normal" font-style="normal" text-anchor="end" fill="#222" >0.2</text>
<text x="62.00" y="422.70" font-size="10" font-weight="normal" font-style="normal" text-anchor="end" fill="#222" >0</text>
<text x="62.00" y="438.20" font-size="10" font-weight="normal" font-style="normal" text-anchor="end" fill="#222" >&#8722;0.2</text>
<text x="62.00" y="453.70" font-size="10" font-weight="normal" font-style="normal" text-anchor="end" fill="#222" >&#8722;0.4</text>
<text x="62.00" y="469.20" font-size="10" font-weight="normal" font-style="normal" text-anchor="end" fill="#222" >&#8722;0.6</text>
<text x="65.70" y="477.00" font-size="10" font-weight="normal" font-style="normal" text-anchor="middle" fill="#222" >&#8722;0.6</text>
<text x="86.80" y="477.00" font-size="10" font-weight="normal" font-style="normal" text-anchor="middle" fill="#222" >&#8722;0.4</text>
<text x="109.00" y="477.00" font-size="10" font-weight="normal" font-style="normal" text-anchor="middle" fill="#222" >&#8722;0.2</text>
<text x="129.30" y="477.00" font-size="10" font-weight="normal" font-style="normal" text-anchor="middle" fill="#222" >0</text>
<text x="151.60" y="477.00" font-size="10" font-weight="normal" font-style="normal" text-anchor="middle" fill="#222" >0.2</text>
<text x="170.20" y="477.00" font-size="10" font-weight="normal" font-style="normal" text-anchor="middle" fill="#222" >0.4</text>
<line x1="63.80" y1="357.50" x2="66.30" y2="357.50" stroke="#c4c4c4" stroke-width="0.8" />
<line x1="63.80" y1="373.00" x2="66.30" y2="373.00" stroke="#c4c4c4" stroke-width="0.8" />
<line x1="63.80" y1="388.50" x2="66.30" y2="388.50" stroke="#c4c4c4" stroke-width="0.8" />
<line x1="63.80" y1="404.00" x2="66.30" y2="404.00" stroke="#c4c4c4" stroke-width="0.8" />
<line x1="63.80" y1="419.50" x2="66.30" y2="419.50" stroke="#c4c4c4" stroke-width="0.8" />
<line x1="63.80" y1="435.00" x2="66.30" y2="435.00" stroke="#c4c4c4" stroke-width="0.8" />
<line x1="63.80" y1="450.50" x2="66.30" y2="450.50" stroke="#c4c4c4" stroke-width="0.8" />
<line x1="63.80" y1="466.00" x2="66.30" y2="466.00" stroke="#c4c4c4" stroke-width="0.8" />
<line x1="66.40" y1="464.80" x2="66.40" y2="467.00" stroke="#c4c4c4" stroke-width="0.8" />
<line x1="87.20" y1="464.80" x2="87.20" y2="467.00" stroke="#c4c4c4" stroke-width="0.8" />
<line x1="108.90" y1="464.80" x2="108.90" y2="467.00" stroke="#c4c4c4" stroke-width="0.8" />
<line x1="129.30" y1="464.80" x2="129.30" y2="467.00" stroke="#c4c4c4" stroke-width="0.8" />
<line x1="151.00" y1="464.80" x2="151.00" y2="467.00" stroke="#c4c4c4" stroke-width="0.8" />
<line x1="170.20" y1="464.80" x2="170.20" y2="467.00" stroke="#c4c4c4" stroke-width="0.8" />
<text x="175.00" y="362.30" font-size="10" font-weight="bold" font-style="normal" text-anchor="end" fill="#111" ><tspan font-style="italic">r</tspan> = &#8722;0.21</text>
<text x="175.30" y="374.00" font-size="10" font-weight="bold" font-style="normal" text-anchor="end" fill="#111" ><tspan font-style="italic">P</tspan> = 0.05</text>
<text x="125.30" y="493.80" font-size="11" font-weight="bold" font-style="normal" text-anchor="middle" fill="#4d4d4d" >D-only<tspan font-family="DejaVu Sans" font-weight="bold" font-size="9" dy="-2.4" stroke="#4d4d4d" stroke-width="0.45">&#8593;</tspan><tspan dy="2.4">metagene</tspan></text>
<text x="0.00" y="0.00" font-size="11" font-weight="bold" font-style="normal" text-anchor="middle" fill="#4d4d4d" transform="translate(38.9,410.6) rotate(-90)">E-only<tspan font-family="DejaVu Sans" font-weight="bold" font-size="9" dy="-2.4" stroke="#4d4d4d" stroke-width="0.45">&#8593;</tspan><tspan dy="2.4">metagene</tspan></text>
<circle cx="87.5" cy="357.6" r="1.35" fill="#b8b8b8"/>
<circle cx="98.0" cy="355.9" r="1.35" fill="#b8b8b8"/>
<circle cx="124.0" cy="367.3" r="1.35" fill="#b8b8b8"/>
<circle cx="102.7" cy="370.8" r="1.35" fill="#b8b8b8"/>
<circle cx="84.5" cy="382.6" r="1.35" fill="#b8b8b8"/>
<circle cx="98.0" cy="382.2" r="1.35" fill="#b8b8b8"/>
<circle cx="91.6" cy="385.5" r="1.35" fill="#b8b8b8"/>
<circle cx="70.8" cy="386.2" r="1.35" fill="#b8b8b8"/>
<circle cx="106.5" cy="387.4" r="1.35" fill="#b8b8b8"/>
<circle cx="118.8" cy="387.1" r="1.35" fill="#b8b8b8"/>
<circle cx="120.7" cy="389.0" r="1.35" fill="#b8b8b8"/>
<circle cx="125.4" cy="389.0" r="1.35" fill="#b8b8b8"/>
<circle cx="131.8" cy="389.0" r="1.35" fill="#b8b8b8"/>
<circle cx="142.4" cy="384.8" r="1.35" fill="#b8b8b8"/>
<circle cx="147.6" cy="390.2" r="1.35" fill="#b8b8b8"/>
<circle cx="150.7" cy="390.2" r="1.35" fill="#b8b8b8"/>
<circle cx="168.9" cy="390.2" r="1.35" fill="#b8b8b8"/>
<circle cx="138.2" cy="390.7" r="1.35" fill="#b8b8b8"/>
<circle cx="121.1" cy="394.5" r="1.35" fill="#b8b8b8"/>
<circle cx="124.0" cy="393.8" r="1.35" fill="#b8b8b8"/>
<circle cx="127.8" cy="395.0" r="1.35" fill="#b8b8b8"/>
<circle cx="131.3" cy="397.3" r="1.35" fill="#b8b8b8"/>
<circle cx="146.0" cy="396.1" r="1.35" fill="#b8b8b8"/>
<circle cx="151.4" cy="396.1" r="1.35" fill="#b8b8b8"/>
<circle cx="155.4" cy="398.5" r="1.35" fill="#b8b8b8"/>
<circle cx="162.5" cy="398.5" r="1.35" fill="#b8b8b8"/>
<circle cx="165.6" cy="395.0" r="1.35" fill="#b8b8b8"/>
<circle cx="118.8" cy="399.0" r="1.35" fill="#b8b8b8"/>
<circle cx="133.0" cy="393.8" r="1.35" fill="#b8b8b8"/>
<circle cx="100.3" cy="399.2" r="1.35" fill="#b8b8b8"/>
<circle cx="104.1" cy="400.9" r="1.35" fill="#b8b8b8"/>
<circle cx="112.4" cy="401.3" r="1.35" fill="#b8b8b8"/>
<circle cx="130.6" cy="401.6" r="1.35" fill="#b8b8b8"/>
<circle cx="137.2" cy="403.9" r="1.35" fill="#b8b8b8"/>
<circle cx="120.7" cy="405.1" r="1.35" fill="#b8b8b8"/>
<circle cx="90.4" cy="405.6" r="1.35" fill="#b8b8b8"/>
<circle cx="142.4" cy="405.6" r="1.35" fill="#b8b8b8"/>
<circle cx="144.8" cy="406.8" r="1.35" fill="#b8b8b8"/>
<circle cx="169.6" cy="403.2" r="1.35" fill="#b8b8b8"/>
<circle cx="177.9" cy="406.3" r="1.35" fill="#b8b8b8"/>
<circle cx="164.2" cy="406.3" r="1.35" fill="#b8b8b8"/>
<circle cx="96.3" cy="408.0" r="1.35" fill="#b8b8b8"/>
<circle cx="101.7" cy="409.1" r="1.35" fill="#b8b8b8"/>
<circle cx="120.7" cy="409.1" r="1.35" fill="#b8b8b8"/>
<circle cx="124.7" cy="409.1" r="1.35" fill="#b8b8b8"/>
<circle cx="144.3" cy="409.6" r="1.35" fill="#b8b8b8"/>
<circle cx="152.3" cy="410.3" r="1.35" fill="#b8b8b8"/>
<circle cx="158.5" cy="412.0" r="1.35" fill="#b8b8b8"/>
<circle cx="112.1" cy="411.0" r="1.35" fill="#b8b8b8"/>
<circle cx="120.7" cy="413.9" r="1.35" fill="#b8b8b8"/>
<circle cx="87.5" cy="413.9" r="1.35" fill="#b8b8b8"/>
<circle cx="134.8" cy="415.0" r="1.35" fill="#b8b8b8"/>
<circle cx="142.9" cy="417.4" r="1.35" fill="#b8b8b8"/>
<circle cx="168.9" cy="416.2" r="1.35" fill="#b8b8b8"/>
<circle cx="109.3" cy="418.1" r="1.35" fill="#b8b8b8"/>
<circle cx="142.4" cy="420.5" r="1.35" fill="#b8b8b8"/>
<circle cx="151.9" cy="420.5" r="1.35" fill="#b8b8b8"/>
<circle cx="106.5" cy="422.8" r="1.35" fill="#b8b8b8"/>
<circle cx="113.6" cy="422.1" r="1.35" fill="#b8b8b8"/>
<circle cx="118.8" cy="425.7" r="1.35" fill="#b8b8b8"/>
<circle cx="121.1" cy="426.9" r="1.35" fill="#b8b8b8"/>
<circle cx="130.6" cy="425.2" r="1.35" fill="#b8b8b8"/>
<circle cx="125.4" cy="432.8" r="1.35" fill="#b8b8b8"/>
<circle cx="110.5" cy="434.0" r="1.35" fill="#b8b8b8"/>
<circle cx="130.6" cy="434.7" r="1.35" fill="#b8b8b8"/>
<circle cx="170.8" cy="434.0" r="1.35" fill="#b8b8b8"/>
<circle cx="120.7" cy="437.0" r="1.35" fill="#b8b8b8"/>
<circle cx="137.7" cy="438.7" r="1.35" fill="#b8b8b8"/>
<circle cx="129.4" cy="440.3" r="1.35" fill="#b8b8b8"/>
<circle cx="172.7" cy="439.9" r="1.35" fill="#b8b8b8"/>
<circle cx="101.0" cy="442.7" r="1.35" fill="#b8b8b8"/>
<circle cx="130.6" cy="451.7" r="1.35" fill="#b8b8b8"/>
<circle cx="137.2" cy="453.4" r="1.35" fill="#b8b8b8"/>
<circle cx="153.1" cy="460.5" r="1.35" fill="#b8b8b8"/>
<circle cx="127.9" cy="395.4" r="1.4" fill="#6a6a6a"/>
<circle cx="131.3" cy="397.5" r="1.4" fill="#6a6a6a"/>
<line x1="66.30" y1="395.00" x2="182.90" y2="416.40" stroke="#8a8a8a" stroke-width="0.9" />
<polyline points="66.3,383.6 68.2,384.3 70.2,385.0 72.1,385.7 74.1,386.4 76.0,387.1 78.0,387.7 79.9,388.4 81.8,389.1 83.8,389.7 85.7,390.4 87.7,391.1 89.6,391.7 91.6,392.4 93.5,393.0 95.5,393.7 97.4,394.3 99.3,394.9 101.3,395.6 103.2,396.2 105.2,396.8 107.1,397.3 109.1,397.9 111.0,398.5 112.9,399.0 114.9,399.5 116.8,400.0 118.8,400.5 120.7,400.9 122.7,401.3 124.6,401.7 126.5,402.0 128.5,402.4 130.4,402.7 132.4,402.9 134.3,403.1 136.3,403.4 138.2,403.5 140.1,403.7 142.1,403.9 144.0,404.0 146.0,404.1 147.9,404.2 149.9,404.3 151.8,404.4 153.8,404.5 155.7,404.6 157.6,404.6 159.6,404.7 161.5,404.7 163.5,404.8 165.4,404.9 167.4,404.9 169.3,404.9 171.2,405.0 173.2,405.0 175.1,405.1 177.1,405.1 179.0,405.1 181.0,405.2 182.9,405.2" fill="none" stroke="#dcdcdc" stroke-width="0.8"/>
<polyline points="66.3,406.4 68.2,406.4 70.2,406.4 72.1,406.4 74.1,406.5 76.0,406.5 78.0,406.5 79.9,406.6 81.8,406.6 83.8,406.7 85.7,406.7 87.7,406.8 89.6,406.8 91.6,406.9 93.5,407.0 95.5,407.0 97.4,407.1 99.3,407.2 101.3,407.3 103.2,407.4 105.2,407.5 107.1,407.6 109.1,407.8 111.0,407.9 112.9,408.1 114.9,408.3 116.8,408.5 118.8,408.8 120.7,409.1 122.7,409.4 124.6,409.7 126.5,410.1 128.5,410.5 130.4,410.9 132.4,411.3 134.3,411.8 136.3,412.3 138.2,412.9 140.1,413.4 142.1,414.0 144.0,414.5 146.0,415.1 147.9,415.7 149.9,416.4 151.8,417.0 153.8,417.6 155.7,418.3 157.6,418.9 159.6,419.5 161.5,420.2 163.5,420.9 165.4,421.5 167.4,422.2 169.3,422.9 171.2,423.5 173.2,424.2 175.1,424.9 177.1,425.6 179.0,426.2 181.0,426.9 182.9,427.6" fill="none" stroke="#dcdcdc" stroke-width="0.8"/>
<text x="216.80" y="344.30" font-size="16" font-weight="bold" font-style="normal" text-anchor="start" fill="#111" >D</text>
<text x="0.00" y="0.00" font-size="11" font-weight="bold" font-style="normal" text-anchor="middle" fill="#111" transform="translate(221.3,420.4) rotate(-90)">Metagene</text>
<line x1="247.60" y1="348.10" x2="247.60" y2="490.40" stroke="#d6d6d6" stroke-width="0.9" />
<line x1="348.60" y1="348.10" x2="348.60" y2="490.40" stroke="#d6d6d6" stroke-width="0.9" />
<line x1="247.60" y1="490.40" x2="348.60" y2="490.40" stroke="#a8a8a8" stroke-width="1.1" />
<line x1="247.60" y1="348.10" x2="348.60" y2="348.10" stroke="#8a8a8a" stroke-width="1.1" />
<line x1="386.40" y1="348.00" x2="386.40" y2="491.60" stroke="#d6d6d6" stroke-width="0.9" />
<line x1="493.20" y1="348.00" x2="493.20" y2="491.60" stroke="#d6d6d6" stroke-width="0.9" />
<line x1="386.40" y1="491.60" x2="493.20" y2="491.60" stroke="#a8a8a8" stroke-width="1.1" />
<line x1="386.40" y1="348.00" x2="493.20" y2="348.00" stroke="#8a8a8a" stroke-width="1.1" />
<text x="297.80" y="345.80" font-size="11" font-weight="bold" font-style="normal" text-anchor="middle" fill="#111" stroke="#111" stroke-width="0.3">E-only<tspan font-family="DejaVu Sans" font-weight="bold" font-size="9" dy="-2.4" stroke="#111" stroke-width="0.45">&#8593;</tspan><tspan dy="2.4"></tspan></text>
<text x="439.50" y="345.20" font-size="11" font-weight="bold" font-style="normal" text-anchor="middle" fill="#111" stroke="#111" stroke-width="0.3">D-only<tspan font-family="DejaVu Sans" font-weight="bold" font-size="9" dy="-2.4" stroke="#111" stroke-width="0.45">&#8593;</tspan><tspan dy="2.4"></tspan></text>
<text x="243.70" y="383.15" font-size="10" font-weight="normal" font-style="normal" text-anchor="end" fill="#111" >0.5</text>
<text x="243.70" y="419.10" font-size="10" font-weight="normal" font-style="normal" text-anchor="end" fill="#111" >0</text>
<text x="243.70" y="455.05" font-size="10" font-weight="normal" font-style="normal" text-anchor="end" fill="#111" >&#8722;0.5</text>
<text x="243.70" y="491.00" font-size="10" font-weight="normal" font-style="normal" text-anchor="end" fill="#111" >&#8722;1</text>
<text x="383.00" y="366.30" font-size="10" font-weight="normal" font-style="normal" text-anchor="end" fill="#111" >0.6</text>
<text x="383.00" y="387.40" font-size="10" font-weight="normal" font-style="normal" text-anchor="end" fill="#111" >0.4</text>
<text x="383.00" y="408.50" font-size="10" font-weight="normal" font-style="normal" text-anchor="end" fill="#111" >0.2</text>
<text x="383.00" y="429.60" font-size="10" font-weight="normal" font-style="normal" text-anchor="end" fill="#111" >0</text>
<text x="383.00" y="450.70" font-size="10" font-weight="normal" font-style="normal" text-anchor="end" fill="#111" >&#8722;0.2</text>
<text x="383.00" y="471.80" font-size="10" font-weight="normal" font-style="normal" text-anchor="end" fill="#111" >&#8722;0.4</text>
<text x="383.00" y="492.90" font-size="10" font-weight="normal" font-style="normal" text-anchor="end" fill="#111" >&#8722;0.6</text>
<text x="249.20" y="501.50" font-size="10" font-weight="normal" font-style="normal" text-anchor="middle" fill="#111" >BL</text>
<text x="344.20" y="501.50" font-size="10" font-weight="normal" font-style="normal" text-anchor="middle" fill="#111" >4WK</text>
<text x="390.60" y="502.40" font-size="10" font-weight="normal" font-style="normal" text-anchor="middle" fill="#111" >BL</text>
<text x="488.00" y="502.40" font-size="10" font-weight="normal" font-style="normal" text-anchor="middle" fill="#111" >4WK</text>
<text x="346.50" y="360.20" font-size="10.2" font-weight="normal" font-style="normal" text-anchor="end" fill="#111" ><tspan font-style="italic">M</tspan> = &#8722;0.36 &#177; 0.35</text>
<text x="346.00" y="370.30" font-size="10" font-weight="normal" font-style="normal" text-anchor="end" fill="#111" ><tspan font-style="italic">P</tspan> = 9.07E-11</text>
<text x="393.00" y="360.30" font-size="10.3" font-weight="normal" font-style="normal" text-anchor="start" fill="#111" ><tspan font-style="italic">M</tspan> = 0.08 &#177; 0.24</text>
<text x="397.30" y="372.90" font-size="10.3" font-weight="normal" font-style="normal" text-anchor="start" fill="#111" ><tspan font-style="italic">P</tspan> = 0.011</text>
<line x1="251.40" y1="381.85" x2="344.80" y2="426.61" stroke="#b4b4b4" stroke-width="0.6" />
<line x1="251.40" y1="387.47" x2="344.80" y2="407.01" stroke="#b4b4b4" stroke-width="0.6" />
<line x1="251.40" y1="391.40" x2="344.80" y2="427.72" stroke="#b4b4b4" stroke-width="0.6" />
<line x1="251.40" y1="395.85" x2="344.80" y2="430.59" stroke="#b4b4b4" stroke-width="0.6" />
<line x1="251.40" y1="413.39" x2="344.80" y2="445.90" stroke="#b4b4b4" stroke-width="0.6" />
<line x1="251.40" y1="419.22" x2="344.80" y2="450.16" stroke="#b4b4b4" stroke-width="0.6" />
<line x1="251.40" y1="437.79" x2="344.80" y2="485.24" stroke="#a8a8a8" stroke-width="0.6" />
<line x1="251.40" y1="455.76" x2="344.80" y2="437.07" stroke="#a8a8a8" stroke-width="0.6" />
<line x1="251.40" y1="383.66" x2="344.80" y2="395.49" stroke="#a6a6a6" stroke-width="0.6" />
<line x1="251.40" y1="389.73" x2="344.80" y2="421.81" stroke="#a6a6a6" stroke-width="0.6" />
<line x1="251.40" y1="392.04" x2="344.80" y2="433.50" stroke="#a6a6a6" stroke-width="0.6" />
<line x1="251.40" y1="397.22" x2="344.80" y2="422.39" stroke="#a6a6a6" stroke-width="0.6" />
<line x1="251.40" y1="398.98" x2="344.80" y2="450.59" stroke="#a6a6a6" stroke-width="0.6" />
<line x1="251.40" y1="402.24" x2="344.80" y2="444.98" stroke="#a6a6a6" stroke-width="0.6" />
<line x1="251.40" y1="403.39" x2="344.80" y2="430.65" stroke="#a6a6a6" stroke-width="0.6" />
<line x1="251.40" y1="404.85" x2="344.80" y2="453.68" stroke="#a6a6a6" stroke-width="0.6" />
<line x1="251.40" y1="405.74" x2="344.80" y2="447.07" stroke="#a6a6a6" stroke-width="0.6" />
<line x1="251.40" y1="409.94" x2="344.80" y2="412.89" stroke="#a6a6a6" stroke-width="0.6" />
<line x1="251.40" y1="414.04" x2="344.80" y2="454.14" stroke="#a6a6a6" stroke-width="0.6" />
<line x1="251.40" y1="431.32" x2="344.80" y2="428.44" stroke="#a0a0a0" stroke-width="0.6" />
<line x1="251.40" y1="435.27" x2="344.80" y2="421.25" stroke="#a0a0a0" stroke-width="0.6" />
<line x1="251.40" y1="354.38" x2="344.80" y2="416.94" stroke="#9a9a9a" stroke-width="0.6" />
<line x1="251.40" y1="368.05" x2="344.80" y2="439.23" stroke="#9a9a9a" stroke-width="0.6" />
<line x1="251.40" y1="406.87" x2="344.80" y2="383.50" stroke="#9a9a9a" stroke-width="0.6" />
<line x1="251.40" y1="385.32" x2="344.80" y2="396.29" stroke="#999999" stroke-width="0.6" />
<line x1="251.40" y1="385.84" x2="344.80" y2="399.76" stroke="#999999" stroke-width="0.6" />
<line x1="251.40" y1="396.19" x2="344.80" y2="430.35" stroke="#999999" stroke-width="0.6" />
<line x1="251.40" y1="415.00" x2="344.80" y2="413.70" stroke="#999999" stroke-width="0.6" />
<line x1="251.40" y1="411.90" x2="344.80" y2="393.21" stroke="#999999" stroke-width="0.6" />
<line x1="251.40" y1="379.44" x2="344.80" y2="420.93" stroke="#8a8a8a" stroke-width="0.6" />
<line x1="251.40" y1="388.15" x2="344.80" y2="397.97" stroke="#8a8a8a" stroke-width="0.6" />
<line x1="251.40" y1="405.98" x2="344.80" y2="436.44" stroke="#8a8a8a" stroke-width="0.6" />
<line x1="251.40" y1="397.52" x2="344.80" y2="390.33" stroke="#8a8a8a" stroke-width="0.6" />
<line x1="251.40" y1="393.93" x2="344.80" y2="396.09" stroke="#777777" stroke-width="0.6" />
<line x1="251.40" y1="380.24" x2="344.80" y2="396.11" stroke="#454545" stroke-width="0.6" />
<line x1="251.40" y1="390.31" x2="344.80" y2="437.38" stroke="#454545" stroke-width="0.6" />
<line x1="251.40" y1="395.01" x2="344.80" y2="445.35" stroke="#454545" stroke-width="0.6" />
<line x1="251.40" y1="398.63" x2="344.80" y2="445.69" stroke="#454545" stroke-width="0.6" />
<line x1="251.40" y1="408.68" x2="344.80" y2="421.64" stroke="#454545" stroke-width="0.6" />
<line x1="251.40" y1="420.19" x2="344.80" y2="452.41" stroke="#454545" stroke-width="0.6" />
<line x1="251.40" y1="386.33" x2="344.80" y2="440.99" stroke="#3a3a3a" stroke-width="0.6" />
<line x1="251.40" y1="412.02" x2="344.80" y2="454.07" stroke="#3a3a3a" stroke-width="0.6" />
<line x1="251.40" y1="417.25" x2="344.80" y2="420.07" stroke="#3a3a3a" stroke-width="0.6" />
<line x1="251.40" y1="381.08" x2="344.80" y2="405.12" stroke="#303030" stroke-width="0.6" />
<line x1="251.40" y1="392.91" x2="344.80" y2="429.02" stroke="#303030" stroke-width="0.6" />
<line x1="251.40" y1="400.44" x2="344.80" y2="446.61" stroke="#303030" stroke-width="0.6" />
<line x1="251.40" y1="403.24" x2="344.80" y2="446.80" stroke="#303030" stroke-width="0.6" />
<line x1="251.40" y1="406.97" x2="344.80" y2="429.52" stroke="#303030" stroke-width="0.6" />
<line x1="251.40" y1="408.36" x2="344.80" y2="439.40" stroke="#303030" stroke-width="0.6" />
<line x1="251.40" y1="410.71" x2="344.80" y2="453.49" stroke="#303030" stroke-width="0.6" />
<line x1="251.40" y1="416.41" x2="344.80" y2="441.01" stroke="#303030" stroke-width="0.6" />
<line x1="251.40" y1="394.29" x2="344.80" y2="432.43" stroke="#262626" stroke-width="0.6" />
<line x1="251.40" y1="412.28" x2="344.80" y2="454.30" stroke="#262626" stroke-width="0.6" />
<line x1="251.40" y1="382.92" x2="344.80" y2="422.94" stroke="#1a1a1a" stroke-width="0.6" />
<line x1="251.40" y1="400.92" x2="344.80" y2="454.25" stroke="#1a1a1a" stroke-width="0.6" />
<line x1="251.40" y1="418.31" x2="344.80" y2="412.91" stroke="#1a1a1a" stroke-width="0.6" />
<path d="M251.4,380.4L252.8,383.0L250.0,383.0Z" fill="#b4b4b4"/>
<path d="M344.8,425.2L346.2,427.8L343.4,427.8Z" fill="#b4b4b4"/>
<path d="M251.4,386.0L252.8,388.6L250.0,388.6Z" fill="#b4b4b4"/>
<path d="M344.8,405.6L346.2,408.2L343.4,408.2Z" fill="#b4b4b4"/>
<path d="M251.4,390.0L252.8,392.6L250.0,392.6Z" fill="#b4b4b4"/>
<path d="M344.8,426.3L346.2,428.9L343.4,428.9Z" fill="#b4b4b4"/>
<path d="M251.4,394.4L252.8,397.0L250.0,397.0Z" fill="#b4b4b4"/>
<path d="M344.8,429.1L346.2,431.8L343.4,431.8Z" fill="#b4b4b4"/>
<path d="M251.4,411.9L252.8,414.5L250.0,414.5Z" fill="#b4b4b4"/>
<path d="M344.8,444.5L346.2,447.1L343.4,447.1Z" fill="#b4b4b4"/>
<path d="M251.4,417.8L252.8,420.4L250.0,420.4Z" fill="#b4b4b4"/>
<path d="M344.8,448.7L346.2,451.3L343.4,451.3Z" fill="#b4b4b4"/>
<path d="M251.4,436.3L252.8,438.9L250.0,438.9Z" fill="#a8a8a8"/>
<path d="M344.8,483.8L346.2,486.4L343.4,486.4Z" fill="#a8a8a8"/>
<path d="M251.4,454.3L252.8,456.9L250.0,456.9Z" fill="#a8a8a8"/>
<path d="M344.8,435.6L346.2,438.2L343.4,438.2Z" fill="#a8a8a8"/>
<path d="M251.4,382.2L252.8,384.8L250.0,384.8Z" fill="#a6a6a6"/>
<path d="M344.8,394.0L346.2,396.6L343.4,396.6Z" fill="#a6a6a6"/>
<path d="M251.4,388.3L252.8,390.9L250.0,390.9Z" fill="#a6a6a6"/>
<path d="M344.8,420.4L346.2,423.0L343.4,423.0Z" fill="#a6a6a6"/>
<path d="M251.4,390.6L252.8,393.2L250.0,393.2Z" fill="#a6a6a6"/>
<path d="M344.8,432.1L346.2,434.7L343.4,434.7Z" fill="#a6a6a6"/>
<path d="M251.4,395.8L252.8,398.4L250.0,398.4Z" fill="#a6a6a6"/>
<path d="M344.8,420.9L346.2,423.6L343.4,423.6Z" fill="#a6a6a6"/>
<path d="M251.4,397.5L252.8,400.1L250.0,400.1Z" fill="#a6a6a6"/>
<path d="M344.8,449.1L346.2,451.7L343.4,451.7Z" fill="#a6a6a6"/>
<path d="M251.4,400.8L252.8,403.4L250.0,403.4Z" fill="#a6a6a6"/>
<path d="M344.8,443.5L346.2,446.1L343.4,446.1Z" fill="#a6a6a6"/>
<path d="M251.4,401.9L252.8,404.5L250.0,404.5Z" fill="#a6a6a6"/>
<path d="M344.8,429.2L346.2,431.8L343.4,431.8Z" fill="#a6a6a6"/>
<path d="M251.4,403.4L252.8,406.0L250.0,406.0Z" fill="#a6a6a6"/>
<path d="M344.8,452.2L346.2,454.8L343.4,454.8Z" fill="#a6a6a6"/>
<path d="M251.4,404.3L252.8,406.9L250.0,406.9Z" fill="#a6a6a6"/>
<path d="M344.8,445.6L346.2,448.2L343.4,448.2Z" fill="#a6a6a6"/>
<path d="M251.4,408.5L252.8,411.1L250.0,411.1Z" fill="#a6a6a6"/>
<path d="M344.8,411.4L346.2,414.1L343.4,414.1Z" fill="#a6a6a6"/>
<path d="M251.4,412.6L252.8,415.2L250.0,415.2Z" fill="#a6a6a6"/>
<path d="M344.8,452.7L346.2,455.3L343.4,455.3Z" fill="#a6a6a6"/>
<path d="M251.4,429.9L252.8,432.5L250.0,432.5Z" fill="#a0a0a0"/>
<path d="M344.8,427.0L346.2,429.6L343.4,429.6Z" fill="#a0a0a0"/>
<path d="M251.4,433.8L252.8,436.4L250.0,436.4Z" fill="#a0a0a0"/>
<path d="M344.8,419.8L346.2,422.4L343.4,422.4Z" fill="#a0a0a0"/>
<path d="M251.4,352.9L252.8,355.5L250.0,355.5Z" fill="#9a9a9a"/>
<path d="M344.8,415.5L346.2,418.1L343.4,418.1Z" fill="#9a9a9a"/>
<path d="M251.4,366.6L252.8,369.2L250.0,369.2Z" fill="#9a9a9a"/>
<path d="M344.8,437.8L346.2,440.4L343.4,440.4Z" fill="#9a9a9a"/>
<path d="M251.4,405.4L252.8,408.0L250.0,408.0Z" fill="#9a9a9a"/>
<path d="M344.8,382.1L346.2,384.7L343.4,384.7Z" fill="#9a9a9a"/>
<path d="M251.4,383.9L252.8,386.5L250.0,386.5Z" fill="#999999"/>
<path d="M344.8,394.8L346.2,397.4L343.4,397.4Z" fill="#999999"/>
<path d="M251.4,384.4L252.8,387.0L250.0,387.0Z" fill="#999999"/>
<path d="M344.8,398.3L346.2,400.9L343.4,400.9Z" fill="#999999"/>
<path d="M251.4,394.7L252.8,397.4L250.0,397.4Z" fill="#999999"/>
<path d="M344.8,428.9L346.2,431.5L343.4,431.5Z" fill="#999999"/>
<path d="M251.4,413.6L252.8,416.2L250.0,416.2Z" fill="#999999"/>
<path d="M344.8,412.3L346.2,414.9L343.4,414.9Z" fill="#999999"/>
<path d="M251.4,410.5L252.8,413.1L250.0,413.1Z" fill="#999999"/>
<path d="M344.8,391.8L346.2,394.4L343.4,394.4Z" fill="#999999"/>
<path d="M251.4,378.0L252.8,380.6L250.0,380.6Z" fill="#8a8a8a"/>
<path d="M344.8,419.5L346.2,422.1L343.4,422.1Z" fill="#8a8a8a"/>
<path d="M251.4,386.7L252.8,389.3L250.0,389.3Z" fill="#8a8a8a"/>
<path d="M344.8,396.5L346.2,399.1L343.4,399.1Z" fill="#8a8a8a"/>
<path d="M251.4,404.5L252.8,407.1L250.0,407.1Z" fill="#8a8a8a"/>
<path d="M344.8,435.0L346.2,437.6L343.4,437.6Z" fill="#8a8a8a"/>
<path d="M251.4,396.1L252.8,398.7L250.0,398.7Z" fill="#8a8a8a"/>
<path d="M344.8,388.9L346.2,391.5L343.4,391.5Z" fill="#8a8a8a"/>
<path d="M251.4,392.5L252.8,395.1L250.0,395.1Z" fill="#777777"/>
<path d="M344.8,394.6L346.2,397.2L343.4,397.2Z" fill="#777777"/>
<path d="M251.4,378.8L252.8,381.4L250.0,381.4Z" fill="#454545"/>
<path d="M344.8,394.7L346.2,397.3L343.4,397.3Z" fill="#454545"/>
<path d="M251.4,388.9L252.8,391.5L250.0,391.5Z" fill="#454545"/>
<path d="M344.8,435.9L346.2,438.5L343.4,438.5Z" fill="#454545"/>
<path d="M251.4,393.6L252.8,396.2L250.0,396.2Z" fill="#454545"/>
<path d="M344.8,443.9L346.2,446.5L343.4,446.5Z" fill="#454545"/>
<path d="M251.4,397.2L252.8,399.8L250.0,399.8Z" fill="#454545"/>
<path d="M344.8,444.2L346.2,446.9L343.4,446.9Z" fill="#454545"/>
<path d="M251.4,407.2L252.8,409.8L250.0,409.8Z" fill="#454545"/>
<path d="M344.8,420.2L346.2,422.8L343.4,422.8Z" fill="#454545"/>
<path d="M251.4,418.7L252.8,421.3L250.0,421.3Z" fill="#454545"/>
<path d="M344.8,451.0L346.2,453.6L343.4,453.6Z" fill="#454545"/>
<path d="M251.4,384.9L252.8,387.5L250.0,387.5Z" fill="#3a3a3a"/>
<path d="M344.8,439.5L346.2,442.2L343.4,442.2Z" fill="#3a3a3a"/>
<path d="M251.4,410.6L252.8,413.2L250.0,413.2Z" fill="#3a3a3a"/>
<path d="M344.8,452.6L346.2,455.2L343.4,455.2Z" fill="#3a3a3a"/>
<path d="M251.4,415.8L252.8,418.4L250.0,418.4Z" fill="#3a3a3a"/>
<path d="M344.8,418.6L346.2,421.2L343.4,421.2Z" fill="#3a3a3a"/>
<path d="M251.4,379.6L252.8,382.2L250.0,382.2Z" fill="#303030"/>
<path d="M344.8,403.7L346.2,406.3L343.4,406.3Z" fill="#303030"/>
<path d="M251.4,391.5L252.8,394.1L250.0,394.1Z" fill="#303030"/>
<path d="M344.8,427.6L346.2,430.2L343.4,430.2Z" fill="#303030"/>
<path d="M251.4,399.0L252.8,401.6L250.0,401.6Z" fill="#303030"/>
<path d="M344.8,445.2L346.2,447.8L343.4,447.8Z" fill="#303030"/>
<path d="M251.4,401.8L252.8,404.4L250.0,404.4Z" fill="#303030"/>
<path d="M344.8,445.3L346.2,448.0L343.4,448.0Z" fill="#303030"/>
<path d="M251.4,405.5L252.8,408.1L250.0,408.1Z" fill="#303030"/>
<path d="M344.8,428.1L346.2,430.7L343.4,430.7Z" fill="#303030"/>
<path d="M251.4,406.9L252.8,409.5L250.0,409.5Z" fill="#303030"/>
<path d="M344.8,438.0L346.2,440.6L343.4,440.6Z" fill="#303030"/>
<path d="M251.4,409.3L252.8,411.9L250.0,411.9Z" fill="#303030"/>
<path d="M344.8,452.0L346.2,454.7L343.4,454.7Z" fill="#303030"/>
<path d="M251.4,415.0L252.8,417.6L250.0,417.6Z" fill="#303030"/>
<path d="M344.8,439.6L346.2,442.2L343.4,442.2Z" fill="#303030"/>
<path d="M251.4,392.8L252.8,395.4L250.0,395.4Z" fill="#262626"/>
<path d="M344.8,431.0L346.2,433.6L343.4,433.6Z" fill="#262626"/>
<path d="M251.4,410.8L252.8,413.4L250.0,413.4Z" fill="#262626"/>
<path d="M344.8,452.9L346.2,455.5L343.4,455.5Z" fill="#262626"/>
<path d="M251.4,381.5L252.8,384.1L250.0,384.1Z" fill="#1a1a1a"/>
<path d="M344.8,421.5L346.2,424.1L343.4,424.1Z" fill="#1a1a1a"/>
<path d="M251.4,399.5L252.8,402.1L250.0,402.1Z" fill="#1a1a1a"/>
<path d="M344.8,452.8L346.2,455.4L343.4,455.4Z" fill="#1a1a1a"/>
<path d="M251.4,416.9L252.8,419.5L250.0,419.5Z" fill="#1a1a1a"/>
<path d="M344.8,411.5L346.2,414.1L343.4,414.1Z" fill="#1a1a1a"/>
<line x1="390.20" y1="410.31" x2="488.50" y2="399.21" stroke="#b4b4b4" stroke-width="0.55" />
<line x1="390.20" y1="428.97" x2="488.50" y2="436.09" stroke="#b4b4b4" stroke-width="0.55" />
<line x1="390.20" y1="447.93" x2="488.50" y2="435.44" stroke="#b4b4b4" stroke-width="0.55" />
<line x1="390.20" y1="458.53" x2="488.50" y2="451.27" stroke="#b4b4b4" stroke-width="0.55" />
<line x1="390.20" y1="453.83" x2="488.50" y2="426.28" stroke="#b4b4b4" stroke-width="0.55" />
<line x1="390.20" y1="469.83" x2="488.50" y2="446.37" stroke="#b4b4b4" stroke-width="0.55" />
<line x1="390.20" y1="485.08" x2="488.50" y2="476.64" stroke="#aaaaaa" stroke-width="0.55" />
<line x1="390.20" y1="425.65" x2="488.50" y2="406.50" stroke="#a6a6a6" stroke-width="0.55" />
<line x1="390.20" y1="412.92" x2="488.50" y2="423.44" stroke="#a6a6a6" stroke-width="0.55" />
<line x1="390.20" y1="406.15" x2="488.50" y2="395.96" stroke="#a6a6a6" stroke-width="0.55" />
<line x1="390.20" y1="427.13" x2="488.50" y2="406.52" stroke="#a6a6a6" stroke-width="0.55" />
<line x1="390.20" y1="437.32" x2="488.50" y2="423.36" stroke="#999999" stroke-width="0.55" />
<line x1="390.20" y1="413.13" x2="488.50" y2="436.44" stroke="#999999" stroke-width="0.55" />
<line x1="390.20" y1="447.89" x2="488.50" y2="445.68" stroke="#999999" stroke-width="0.55" />
<line x1="390.20" y1="381.56" x2="488.50" y2="410.91" stroke="#999999" stroke-width="0.55" />
<line x1="390.20" y1="461.62" x2="488.50" y2="441.83" stroke="#999999" stroke-width="0.55" />
<line x1="390.20" y1="456.71" x2="488.50" y2="430.07" stroke="#999999" stroke-width="0.55" />
<line x1="390.20" y1="391.19" x2="488.50" y2="391.19" stroke="#999999" stroke-width="0.55" />
<line x1="390.20" y1="406.56" x2="488.50" y2="427.66" stroke="#8a8a8a" stroke-width="0.55" />
<line x1="390.20" y1="453.40" x2="488.50" y2="419.18" stroke="#8a8a8a" stroke-width="0.55" />
<line x1="390.20" y1="431.38" x2="488.50" y2="428.12" stroke="#8a8a8a" stroke-width="0.55" />
<line x1="390.20" y1="406.05" x2="488.50" y2="432.67" stroke="#8a8a8a" stroke-width="0.55" />
<line x1="390.20" y1="436.23" x2="488.50" y2="406.45" stroke="#8a8a8a" stroke-width="0.55" />
<line x1="390.20" y1="387.32" x2="488.50" y2="419.91" stroke="#8a8a8a" stroke-width="0.55" />
<line x1="390.20" y1="376.15" x2="488.50" y2="416.24" stroke="#8a8a8a" stroke-width="0.55" />
<line x1="390.20" y1="454.96" x2="488.50" y2="437.28" stroke="#8a8a8a" stroke-width="0.55" />
<line x1="390.20" y1="464.21" x2="488.50" y2="426.14" stroke="#8a8a8a" stroke-width="0.55" />
<line x1="390.20" y1="426.00" x2="488.50" y2="371.14" stroke="#888888" stroke-width="0.55" />
<line x1="390.20" y1="380.63" x2="488.50" y2="431.27" stroke="#888888" stroke-width="0.55" />
<line x1="390.20" y1="385.91" x2="488.50" y2="385.91" stroke="#777777" stroke-width="0.55" />
<line x1="390.20" y1="375.36" x2="488.50" y2="447.10" stroke="#777777" stroke-width="0.55" />
<line x1="390.20" y1="420.73" x2="488.50" y2="353.73" stroke="#666666" stroke-width="0.55" />
<line x1="390.20" y1="431.27" x2="488.50" y2="370.08" stroke="#666666" stroke-width="0.55" />
<line x1="390.20" y1="470.31" x2="488.50" y2="436.55" stroke="#666666" stroke-width="0.55" />
<line x1="390.20" y1="415.45" x2="488.50" y2="360.59" stroke="#555555" stroke-width="0.55" />
<line x1="390.20" y1="468.20" x2="488.50" y2="426.00" stroke="#555555" stroke-width="0.55" />
<line x1="390.20" y1="404.87" x2="488.50" y2="424.54" stroke="#454545" stroke-width="0.55" />
<line x1="390.20" y1="408.55" x2="488.50" y2="415.71" stroke="#454545" stroke-width="0.55" />
<line x1="390.20" y1="407.93" x2="488.50" y2="411.82" stroke="#454545" stroke-width="0.55" />
<line x1="390.20" y1="420.72" x2="488.50" y2="432.11" stroke="#454545" stroke-width="0.55" />
<line x1="390.20" y1="441.78" x2="488.50" y2="432.01" stroke="#454545" stroke-width="0.55" />
<line x1="390.20" y1="382.86" x2="488.50" y2="416.55" stroke="#454545" stroke-width="0.55" />
<line x1="390.20" y1="404.90" x2="488.50" y2="456.60" stroke="#444444" stroke-width="0.55" />
<line x1="390.20" y1="421.63" x2="488.50" y2="414.40" stroke="#3a3a3a" stroke-width="0.55" />
<line x1="390.20" y1="405.97" x2="488.50" y2="405.82" stroke="#3a3a3a" stroke-width="0.55" />
<line x1="390.20" y1="403.55" x2="488.50" y2="434.73" stroke="#3a3a3a" stroke-width="0.55" />
<line x1="390.20" y1="433.60" x2="488.50" y2="436.13" stroke="#3a3a3a" stroke-width="0.55" />
<line x1="390.20" y1="415.92" x2="488.50" y2="399.51" stroke="#3a3a3a" stroke-width="0.55" />
<line x1="390.20" y1="405.86" x2="488.50" y2="401.63" stroke="#303030" stroke-width="0.55" />
<line x1="390.20" y1="437.74" x2="488.50" y2="408.28" stroke="#303030" stroke-width="0.55" />
<line x1="390.20" y1="390.43" x2="488.50" y2="431.39" stroke="#303030" stroke-width="0.55" />
<line x1="390.20" y1="459.43" x2="488.50" y2="454.13" stroke="#303030" stroke-width="0.55" />
<line x1="390.20" y1="424.77" x2="488.50" y2="413.67" stroke="#262626" stroke-width="0.55" />
<line x1="390.20" y1="437.97" x2="488.50" y2="402.55" stroke="#262626" stroke-width="0.55" />
<line x1="390.20" y1="414.27" x2="488.50" y2="410.09" stroke="#262626" stroke-width="0.55" />
<line x1="390.20" y1="442.03" x2="488.50" y2="424.20" stroke="#262626" stroke-width="0.55" />
<line x1="390.20" y1="405.88" x2="488.50" y2="423.50" stroke="#262626" stroke-width="0.55" />
<line x1="390.20" y1="431.27" x2="488.50" y2="429.17" stroke="#222222" stroke-width="0.7" />
<line x1="390.20" y1="375.78" x2="488.50" y2="402.67" stroke="#1a1a1a" stroke-width="0.55" />
<line x1="390.20" y1="428.11" x2="488.50" y2="428.11" stroke="#1a1a1a" stroke-width="0.7" />
<path d="M390.2,408.9L391.6,411.5L388.8,411.5Z" fill="#b4b4b4"/>
<path d="M488.5,397.8L489.9,400.4L487.1,400.4Z" fill="#b4b4b4"/>
<path d="M390.2,427.5L391.6,430.1L388.8,430.1Z" fill="#b4b4b4"/>
<path d="M488.5,434.6L489.9,437.2L487.1,437.2Z" fill="#b4b4b4"/>
<path d="M390.2,446.5L391.6,449.1L388.8,449.1Z" fill="#b4b4b4"/>
<path d="M488.5,434.0L489.9,436.6L487.1,436.6Z" fill="#b4b4b4"/>
<path d="M390.2,457.1L391.6,459.7L388.8,459.7Z" fill="#b4b4b4"/>
<path d="M488.5,449.8L489.9,452.4L487.1,452.4Z" fill="#b4b4b4"/>
<path d="M390.2,452.4L391.6,455.0L388.8,455.0Z" fill="#b4b4b4"/>
<path d="M488.5,424.8L489.9,427.4L487.1,427.4Z" fill="#b4b4b4"/>
<path d="M390.2,468.4L391.6,471.0L388.8,471.0Z" fill="#b4b4b4"/>
<path d="M488.5,444.9L489.9,447.5L487.1,447.5Z" fill="#b4b4b4"/>
<path d="M390.2,483.6L391.6,486.2L388.8,486.2Z" fill="#aaaaaa"/>
<path d="M488.5,475.2L489.9,477.8L487.1,477.8Z" fill="#aaaaaa"/>
<path d="M390.2,424.2L391.6,426.8L388.8,426.8Z" fill="#a6a6a6"/>
<path d="M488.5,405.0L489.9,407.7L487.1,407.7Z" fill="#a6a6a6"/>
<path d="M390.2,411.5L391.6,414.1L388.8,414.1Z" fill="#a6a6a6"/>
<path d="M488.5,422.0L489.9,424.6L487.1,424.6Z" fill="#a6a6a6"/>
<path d="M390.2,404.7L391.6,407.3L388.8,407.3Z" fill="#a6a6a6"/>
<path d="M488.5,394.5L489.9,397.1L487.1,397.1Z" fill="#a6a6a6"/>
<path d="M390.2,425.7L391.6,428.3L388.8,428.3Z" fill="#a6a6a6"/>
<path d="M488.5,405.1L489.9,407.7L487.1,407.7Z" fill="#a6a6a6"/>
<path d="M390.2,435.9L391.6,438.5L388.8,438.5Z" fill="#999999"/>
<path d="M488.5,421.9L489.9,424.5L487.1,424.5Z" fill="#999999"/>
<path d="M390.2,411.7L391.6,414.3L388.8,414.3Z" fill="#999999"/>
<path d="M488.5,435.0L489.9,437.6L487.1,437.6Z" fill="#999999"/>
<path d="M390.2,446.4L391.6,449.0L388.8,449.0Z" fill="#999999"/>
<path d="M488.5,444.2L489.9,446.8L487.1,446.8Z" fill="#999999"/>
<path d="M390.2,380.1L391.6,382.7L388.8,382.7Z" fill="#999999"/>
<path d="M488.5,409.5L489.9,412.1L487.1,412.1Z" fill="#999999"/>
<path d="M390.2,460.2L391.6,462.8L388.8,462.8Z" fill="#999999"/>
<path d="M488.5,440.4L489.9,443.0L487.1,443.0Z" fill="#999999"/>
<path d="M390.2,455.3L391.6,457.9L388.8,457.9Z" fill="#999999"/>
<path d="M488.5,428.6L489.9,431.2L487.1,431.2Z" fill="#999999"/>
<path d="M390.2,389.7L391.6,392.3L388.8,392.3Z" fill="#999999"/>
<path d="M488.5,389.7L489.9,392.3L487.1,392.3Z" fill="#999999"/>
<path d="M390.2,405.1L391.6,407.7L388.8,407.7Z" fill="#8a8a8a"/>
<path d="M488.5,426.2L489.9,428.8L487.1,428.8Z" fill="#8a8a8a"/>
<path d="M390.2,452.0L391.6,454.6L388.8,454.6Z" fill="#8a8a8a"/>
<path d="M488.5,417.7L489.9,420.3L487.1,420.3Z" fill="#8a8a8a"/>
<path d="M390.2,429.9L391.6,432.5L388.8,432.5Z" fill="#8a8a8a"/>
<path d="M488.5,426.7L489.9,429.3L487.1,429.3Z" fill="#8a8a8a"/>
<path d="M390.2,404.6L391.6,407.2L388.8,407.2Z" fill="#8a8a8a"/>
<path d="M488.5,431.2L489.9,433.8L487.1,433.8Z" fill="#8a8a8a"/>
<path d="M390.2,434.8L391.6,437.4L388.8,437.4Z" fill="#8a8a8a"/>
<path d="M488.5,405.0L489.9,407.6L487.1,407.6Z" fill="#8a8a8a"/>
<path d="M390.2,385.9L391.6,388.5L388.8,388.5Z" fill="#8a8a8a"/>
<path d="M488.5,418.5L489.9,421.1L487.1,421.1Z" fill="#8a8a8a"/>
<path d="M390.2,374.7L391.6,377.3L388.8,377.3Z" fill="#8a8a8a"/>
<path d="M488.5,414.8L489.9,417.4L487.1,417.4Z" fill="#8a8a8a"/>
<path d="M390.2,453.5L391.6,456.1L388.8,456.1Z" fill="#8a8a8a"/>
<path d="M488.5,435.8L489.9,438.4L487.1,438.4Z" fill="#8a8a8a"/>
<path d="M390.2,462.8L391.6,465.4L388.8,465.4Z" fill="#8a8a8a"/>
<path d="M488.5,424.7L489.9,427.3L487.1,427.3Z" fill="#8a8a8a"/>
<path d="M390.2,424.6L391.6,427.2L388.8,427.2Z" fill="#888888"/>
<path d="M488.5,369.7L489.9,372.3L487.1,372.3Z" fill="#888888"/>
<path d="M390.2,379.2L391.6,381.8L388.8,381.8Z" fill="#888888"/>
<path d="M488.5,429.8L489.9,432.4L487.1,432.4Z" fill="#888888"/>
<path d="M390.2,384.5L391.6,387.1L388.8,387.1Z" fill="#777777"/>
<path d="M488.5,384.5L489.9,387.1L487.1,387.1Z" fill="#777777"/>
<path d="M390.2,373.9L391.6,376.5L388.8,376.5Z" fill="#777777"/>
<path d="M488.5,445.7L489.9,448.3L487.1,448.3Z" fill="#777777"/>
<path d="M390.2,419.3L391.6,421.9L388.8,421.9Z" fill="#666666"/>
<path d="M488.5,352.3L489.9,354.9L487.1,354.9Z" fill="#666666"/>
<path d="M390.2,429.8L391.6,432.4L388.8,432.4Z" fill="#666666"/>
<path d="M488.5,368.6L489.9,371.2L487.1,371.2Z" fill="#666666"/>
<path d="M390.2,468.9L391.6,471.5L388.8,471.5Z" fill="#666666"/>
<path d="M488.5,435.1L489.9,437.7L487.1,437.7Z" fill="#666666"/>
<path d="M390.2,414.0L391.6,416.6L388.8,416.6Z" fill="#555555"/>
<path d="M488.5,359.1L489.9,361.8L487.1,361.8Z" fill="#555555"/>
<path d="M390.2,466.8L391.6,469.4L388.8,469.4Z" fill="#555555"/>
<path d="M488.5,424.6L489.9,427.2L487.1,427.2Z" fill="#555555"/>
<path d="M390.2,403.4L391.6,406.0L388.8,406.0Z" fill="#454545"/>
<path d="M488.5,423.1L489.9,425.7L487.1,425.7Z" fill="#454545"/>
<path d="M390.2,407.1L391.6,409.7L388.8,409.7Z" fill="#454545"/>
<path d="M488.5,414.3L489.9,416.9L487.1,416.9Z" fill="#454545"/>
<path d="M390.2,406.5L391.6,409.1L388.8,409.1Z" fill="#454545"/>
<path d="M488.5,410.4L489.9,413.0L487.1,413.0Z" fill="#454545"/>
<path d="M390.2,419.3L391.6,421.9L388.8,421.9Z" fill="#454545"/>
<path d="M488.5,430.7L489.9,433.3L487.1,433.3Z" fill="#454545"/>
<path d="M390.2,440.3L391.6,442.9L388.8,442.9Z" fill="#454545"/>
<path d="M488.5,430.6L489.9,433.2L487.1,433.2Z" fill="#454545"/>
<path d="M390.2,381.4L391.6,384.0L388.8,384.0Z" fill="#454545"/>
<path d="M488.5,415.1L489.9,417.7L487.1,417.7Z" fill="#454545"/>
<path d="M390.2,403.4L391.6,406.1L388.8,406.1Z" fill="#444444"/>
<path d="M488.5,455.1L489.9,457.8L487.1,457.8Z" fill="#444444"/>
<path d="M390.2,420.2L391.6,422.8L388.8,422.8Z" fill="#3a3a3a"/>
<path d="M488.5,412.9L489.9,415.6L487.1,415.6Z" fill="#3a3a3a"/>
<path d="M390.2,404.5L391.6,407.1L388.8,407.1Z" fill="#3a3a3a"/>
<path d="M488.5,404.4L489.9,407.0L487.1,407.0Z" fill="#3a3a3a"/>
<path d="M390.2,402.1L391.6,404.7L388.8,404.7Z" fill="#3a3a3a"/>
<path d="M488.5,433.3L489.9,435.9L487.1,435.9Z" fill="#3a3a3a"/>
<path d="M390.2,432.2L391.6,434.8L388.8,434.8Z" fill="#3a3a3a"/>
<path d="M488.5,434.7L489.9,437.3L487.1,437.3Z" fill="#3a3a3a"/>
<path d="M390.2,414.5L391.6,417.1L388.8,417.1Z" fill="#3a3a3a"/>
<path d="M488.5,398.1L489.9,400.7L487.1,400.7Z" fill="#3a3a3a"/>
<path d="M390.2,404.4L391.6,407.0L388.8,407.0Z" fill="#303030"/>
<path d="M488.5,400.2L489.9,402.8L487.1,402.8Z" fill="#303030"/>
<path d="M390.2,436.3L391.6,438.9L388.8,438.9Z" fill="#303030"/>
<path d="M488.5,406.8L489.9,409.4L487.1,409.4Z" fill="#303030"/>
<path d="M390.2,389.0L391.6,391.6L388.8,391.6Z" fill="#303030"/>
<path d="M488.5,429.9L489.9,432.5L487.1,432.5Z" fill="#303030"/>
<path d="M390.2,458.0L391.6,460.6L388.8,460.6Z" fill="#303030"/>
<path d="M488.5,452.7L489.9,455.3L487.1,455.3Z" fill="#303030"/>
<path d="M390.2,423.3L391.6,425.9L388.8,425.9Z" fill="#262626"/>
<path d="M488.5,412.2L489.9,414.8L487.1,414.8Z" fill="#262626"/>
<path d="M390.2,436.5L391.6,439.1L388.8,439.1Z" fill="#262626"/>
<path d="M488.5,401.1L489.9,403.7L487.1,403.7Z" fill="#262626"/>
<path d="M390.2,412.8L391.6,415.4L388.8,415.4Z" fill="#262626"/>
<path d="M488.5,408.6L489.9,411.3L487.1,411.3Z" fill="#262626"/>
<path d="M390.2,440.6L391.6,443.2L388.8,443.2Z" fill="#262626"/>
<path d="M488.5,422.8L489.9,425.4L487.1,425.4Z" fill="#262626"/>
<path d="M390.2,404.4L391.6,407.0L388.8,407.0Z" fill="#262626"/>
<path d="M488.5,422.1L489.9,424.7L487.1,424.7Z" fill="#262626"/>
<path d="M390.2,429.8L391.6,432.4L388.8,432.4Z" fill="#222222"/>
<path d="M488.5,427.7L489.9,430.3L487.1,430.3Z" fill="#222222"/>
<path d="M390.2,374.3L391.6,376.9L388.8,376.9Z" fill="#1a1a1a"/>
<path d="M488.5,401.2L489.9,403.8L487.1,403.8Z" fill="#1a1a1a"/>
<path d="M390.2,426.7L391.6,429.3L388.8,429.3Z" fill="#1a1a1a"/>
<path d="M488.5,426.7L489.9,429.3L487.1,429.3Z" fill="#1a1a1a"/>
<rect x="0.00" y="0.00" width="520.00" height="1.20" fill="#585858"/>
<rect x="0.00" y="0.00" width="1.30" height="521.00" fill="#585858"/>
<rect x="517.90" y="0.00" width="2.10" height="521.00" fill="#8a8a8a"/>
<rect x="0.00" y="519.20" width="520.00" height="1.80" fill="#6a6a6a"/>
</svg>
</body></html>
